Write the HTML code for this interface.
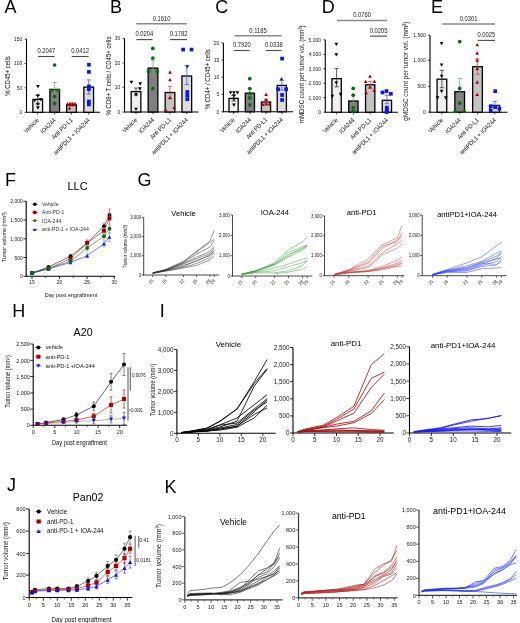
<!DOCTYPE html>
<html><head><meta charset="utf-8"><style>
html,body{margin:0;padding:0;background:#fff;}
body{width:520px;height:623px;overflow:hidden;}
svg{display:block;font-family:"Liberation Sans", sans-serif;filter:blur(0.3px);}
</style></head><body>
<svg width="520" height="623" viewBox="0 0 520 623">
<rect width="520" height="623" fill="#fff"/>
<text x="4.6" y="12.6" font-size="18" text-anchor="start" fill="#000">A</text>
<text x="109.9" y="12.5" font-size="18" text-anchor="start" fill="#000">B</text>
<text x="215.3" y="12.8" font-size="18" text-anchor="start" fill="#000">C</text>
<text x="321.8" y="12.5" font-size="18" text-anchor="start" fill="#000">D</text>
<text x="431" y="12.7" font-size="18" text-anchor="start" fill="#000">E</text>
<text x="5.1" y="186.1" font-size="18" text-anchor="start" fill="#000">F</text>
<text x="137.6" y="186" font-size="18" text-anchor="start" fill="#000">G</text>
<text x="12.2" y="316.5" font-size="18" text-anchor="start" fill="#000">H</text>
<text x="159.7" y="316.5" font-size="18" text-anchor="start" fill="#000">I</text>
<text x="6.9" y="490.7" font-size="18" text-anchor="start" fill="#000">J</text>
<text x="164.5" y="492.7" font-size="18" text-anchor="start" fill="#000">K</text>
<line x1="26.5" y1="39" x2="26.5" y2="112.7" stroke="#000" stroke-width="1.1"/>
<line x1="26" y1="112.3" x2="100" y2="112.3" stroke="#000" stroke-width="1.1"/>
<line x1="24.5" y1="39" x2="26.5" y2="39" stroke="#000" stroke-width="0.7"/>
<text x="22.3" y="40.8" font-size="5" text-anchor="end" fill="#222">150</text>
<line x1="24.5" y1="63.5" x2="26.5" y2="63.5" stroke="#000" stroke-width="0.7"/>
<text x="22.3" y="65.3" font-size="5" text-anchor="end" fill="#222">100</text>
<line x1="24.5" y1="87.8" x2="26.5" y2="87.8" stroke="#000" stroke-width="0.7"/>
<text x="22.3" y="89.6" font-size="5" text-anchor="end" fill="#222">50</text>
<line x1="24.5" y1="112.3" x2="26.5" y2="112.3" stroke="#000" stroke-width="0.7"/>
<text x="22.3" y="114.1" font-size="5" text-anchor="end" fill="#222">0</text>
<rect x="32.85" y="99.4" width="9.7" height="12.9" fill="#efefef" stroke="#000" stroke-width="1.3"/>
<line x1="37.7" y1="112.3" x2="37.7" y2="114.5" stroke="#000" stroke-width="0.7"/>
<text x="0" y="0" font-size="6.25" text-anchor="end" fill="#111" transform="translate(39.3 120.6) rotate(-45) scale(0.9 1)">Vehicle</text>
<rect x="49.85" y="89.5" width="9.7" height="22.8" fill="#7f7f7f" stroke="#000" stroke-width="1.3"/>
<line x1="54.7" y1="112.3" x2="54.7" y2="114.5" stroke="#000" stroke-width="0.7"/>
<text x="0" y="0" font-size="6.25" text-anchor="end" fill="#111" transform="translate(56.3 120.6) rotate(-45) scale(0.9 1)">IOA244</text>
<rect x="66.65" y="105.1" width="9.7" height="7.2" fill="#c4c4c4" stroke="#000" stroke-width="1.3"/>
<line x1="71.5" y1="112.3" x2="71.5" y2="114.5" stroke="#000" stroke-width="0.7"/>
<text x="0" y="0" font-size="6.25" text-anchor="end" fill="#111" transform="translate(73.1 120.6) rotate(-45) scale(0.9 1)">Anti PD-L1</text>
<rect x="83.85" y="87.1" width="9.7" height="25.2" fill="#dcdcdc" stroke="#000" stroke-width="1.3"/>
<line x1="88.7" y1="112.3" x2="88.7" y2="114.5" stroke="#000" stroke-width="0.7"/>
<text x="0" y="0" font-size="6.25" text-anchor="end" fill="#111" transform="translate(90.3 120.6) rotate(-45) scale(0.9 1)">antiPDL1 + IOA244</text>
<line x1="37.7" y1="95.5" x2="37.7" y2="104" stroke="#333" stroke-width="0.8"/>
<line x1="35.5" y1="95.5" x2="39.9" y2="95.5" stroke="#333" stroke-width="0.8"/>
<line x1="35.5" y1="104" x2="39.9" y2="104" stroke="#333" stroke-width="0.8"/>
<polygon points="37.9,88.27 36.05,84.93 39.75,84.93" fill="#000"/>
<polygon points="37.9,97.47 36.05,94.13 39.75,94.13" fill="#000"/>
<polygon points="34.8,102.27 32.95,98.93 36.65,98.93" fill="#000"/>
<polygon points="40.8,101.27 38.95,97.93 42.65,97.93" fill="#000"/>
<polygon points="37.9,106.07 36.05,102.73 39.75,102.73" fill="#000"/>
<polygon points="37.9,109.67 36.05,106.33 39.75,106.33" fill="#000"/>
<line x1="54.7" y1="82.5" x2="54.7" y2="96" stroke="#6aa86a" stroke-width="0.8"/>
<line x1="52.5" y1="82.5" x2="56.9" y2="82.5" stroke="#6aa86a" stroke-width="0.8"/>
<line x1="52.5" y1="96" x2="56.9" y2="96" stroke="#6aa86a" stroke-width="0.8"/>
<circle cx="54.6" cy="65" r="1.85" fill="#0b6b0b"/>
<circle cx="50.9" cy="90.4" r="1.85" fill="#0b6b0b"/>
<circle cx="58.5" cy="90.4" r="1.85" fill="#0b6b0b"/>
<circle cx="54.6" cy="96.5" r="1.85" fill="#0b6b0b"/>
<circle cx="54.6" cy="103.4" r="1.85" fill="#0b6b0b"/>
<line x1="71.5" y1="103" x2="71.5" y2="106.5" stroke="#d24a4a" stroke-width="0.8"/>
<line x1="69.3" y1="103" x2="73.7" y2="103" stroke="#d24a4a" stroke-width="0.8"/>
<line x1="69.3" y1="106.5" x2="73.7" y2="106.5" stroke="#d24a4a" stroke-width="0.8"/>
<polygon points="67.5,102.03 65.65,105.37 69.35,105.37" fill="#a80000"/>
<polygon points="70,101.73 68.15,105.07 71.85,105.07" fill="#a80000"/>
<polygon points="72.5,102.03 70.65,105.37 74.35,105.37" fill="#a80000"/>
<polygon points="75,101.73 73.15,105.07 76.85,105.07" fill="#a80000"/>
<polygon points="69.4,106.33 67.55,109.67 71.25,109.67" fill="#a80000"/>
<line x1="88.7" y1="79.9" x2="88.7" y2="94" stroke="#4a5cf0" stroke-width="0.8"/>
<line x1="86.5" y1="79.9" x2="90.9" y2="79.9" stroke="#4a5cf0" stroke-width="0.8"/>
<line x1="86.5" y1="94" x2="90.9" y2="94" stroke="#4a5cf0" stroke-width="0.8"/>
<rect x="87.05" y="62.85" width="3.7" height="3.7" fill="#0a14f0" stroke="none" stroke-width="0"/>
<rect x="87.05" y="70.05" width="3.7" height="3.7" fill="#0a14f0" stroke="none" stroke-width="0"/>
<rect x="87.05" y="84.55" width="3.7" height="3.7" fill="#0a14f0" stroke="none" stroke-width="0"/>
<rect x="87.05" y="87.35" width="3.7" height="3.7" fill="#0a14f0" stroke="none" stroke-width="0"/>
<rect x="87.05" y="99.65" width="3.7" height="3.7" fill="#0a14f0" stroke="none" stroke-width="0"/>
<rect x="87.05" y="102.55" width="3.7" height="3.7" fill="#0a14f0" stroke="none" stroke-width="0"/>
<line x1="38.1" y1="56.5" x2="54.6" y2="56.5" stroke="#4a4a4a" stroke-width="1.1"/>
<text x="0" y="0" font-size="6.6" text-anchor="middle" fill="#222" transform="translate(46.35 53.2) scale(0.88 1)">0.2047</text>
<line x1="71.7" y1="56.5" x2="88.6" y2="56.5" stroke="#4a4a4a" stroke-width="1.1"/>
<text x="0" y="0" font-size="6.6" text-anchor="middle" fill="#222" transform="translate(80.15 53.2) scale(0.88 1)">0.0412</text>
<text x="0" y="0" font-size="7" text-anchor="middle" fill="#111" transform="translate(9.5 76) rotate(-90) scale(0.86 1)">% CD45+ cells</text>
<line x1="124.5" y1="38.4" x2="124.5" y2="112.4" stroke="#000" stroke-width="1.1"/>
<line x1="124" y1="112" x2="198.5" y2="112" stroke="#000" stroke-width="1.1"/>
<line x1="122.5" y1="38.4" x2="124.5" y2="38.4" stroke="#000" stroke-width="0.7"/>
<text x="120.3" y="40.2" font-size="5" text-anchor="end" fill="#222">30</text>
<line x1="122.5" y1="63" x2="124.5" y2="63" stroke="#000" stroke-width="0.7"/>
<text x="120.3" y="64.8" font-size="5" text-anchor="end" fill="#222">20</text>
<line x1="122.5" y1="87.4" x2="124.5" y2="87.4" stroke="#000" stroke-width="0.7"/>
<text x="120.3" y="89.2" font-size="5" text-anchor="end" fill="#222">10</text>
<line x1="122.5" y1="112" x2="124.5" y2="112" stroke="#000" stroke-width="0.7"/>
<text x="120.3" y="113.8" font-size="5" text-anchor="end" fill="#222">0</text>
<rect x="131.15" y="91.6" width="9.7" height="20.4" fill="#efefef" stroke="#000" stroke-width="1.3"/>
<line x1="136" y1="112" x2="136" y2="114.2" stroke="#000" stroke-width="0.7"/>
<text x="0" y="0" font-size="6.25" text-anchor="end" fill="#111" transform="translate(137.6 120.3) rotate(-45) scale(0.9 1)">Vehicle</text>
<rect x="148.15" y="68.1" width="9.7" height="43.9" fill="#7f7f7f" stroke="#000" stroke-width="1.3"/>
<line x1="153" y1="112" x2="153" y2="114.2" stroke="#000" stroke-width="0.7"/>
<text x="0" y="0" font-size="6.25" text-anchor="end" fill="#111" transform="translate(154.6 120.3) rotate(-45) scale(0.9 1)">IOA244</text>
<rect x="165.15" y="92.5" width="9.7" height="19.5" fill="#c4c4c4" stroke="#000" stroke-width="1.3"/>
<line x1="170" y1="112" x2="170" y2="114.2" stroke="#000" stroke-width="0.7"/>
<text x="0" y="0" font-size="6.25" text-anchor="end" fill="#111" transform="translate(171.6 120.3) rotate(-45) scale(0.9 1)">Anti PD-L1</text>
<rect x="181.95" y="76" width="9.7" height="36" fill="#dcdcdc" stroke="#000" stroke-width="1.3"/>
<line x1="186.8" y1="112" x2="186.8" y2="114.2" stroke="#000" stroke-width="0.7"/>
<text x="0" y="0" font-size="6.25" text-anchor="end" fill="#111" transform="translate(188.4 120.3) rotate(-45) scale(0.9 1)">antiPDL1 + IOA244</text>
<line x1="136" y1="88" x2="136" y2="95" stroke="#333" stroke-width="0.8"/>
<line x1="133.8" y1="88" x2="138.2" y2="88" stroke="#333" stroke-width="0.8"/>
<line x1="133.8" y1="95" x2="138.2" y2="95" stroke="#333" stroke-width="0.8"/>
<polygon points="131.4,84.07 129.55,80.73 133.25,80.73" fill="#000"/>
<polygon points="140.2,85.67 138.35,82.33 142.05,82.33" fill="#000"/>
<polygon points="139.9,90.67 138.05,87.33 141.75,87.33" fill="#000"/>
<polygon points="136,96.67 134.15,93.33 137.85,93.33" fill="#000"/>
<polygon points="136,110.97 134.15,107.63 137.85,107.63" fill="#000"/>
<line x1="153" y1="60.2" x2="153" y2="76" stroke="#6aa86a" stroke-width="0.8"/>
<line x1="150.8" y1="60.2" x2="155.2" y2="60.2" stroke="#6aa86a" stroke-width="0.8"/>
<line x1="150.8" y1="76" x2="155.2" y2="76" stroke="#6aa86a" stroke-width="0.8"/>
<circle cx="152.8" cy="48.4" r="1.85" fill="#0b6b0b"/>
<circle cx="152.8" cy="58" r="1.85" fill="#0b6b0b"/>
<circle cx="148.6" cy="71.4" r="1.85" fill="#0b6b0b"/>
<circle cx="157.4" cy="71.4" r="1.85" fill="#0b6b0b"/>
<circle cx="152.8" cy="88.6" r="1.85" fill="#0b6b0b"/>
<line x1="170" y1="86.3" x2="170" y2="98.5" stroke="#d24a4a" stroke-width="0.8"/>
<line x1="167.8" y1="86.3" x2="172.2" y2="86.3" stroke="#d24a4a" stroke-width="0.8"/>
<line x1="167.8" y1="98.5" x2="172.2" y2="98.5" stroke="#d24a4a" stroke-width="0.8"/>
<polygon points="170,70.33 168.15,73.67 171.85,73.67" fill="#a80000"/>
<polygon points="170,77.83 168.15,81.17 171.85,81.17" fill="#a80000"/>
<polygon points="170,95.83 168.15,99.17 171.85,99.17" fill="#a80000"/>
<polygon points="165.8,108.33 163.95,111.67 167.65,111.67" fill="#a80000"/>
<polygon points="174.2,105.63 172.35,108.97 176.05,108.97" fill="#a80000"/>
<line x1="186.8" y1="65.6" x2="186.8" y2="84.6" stroke="#4a5cf0" stroke-width="0.8"/>
<line x1="184.6" y1="65.6" x2="189" y2="65.6" stroke="#4a5cf0" stroke-width="0.8"/>
<line x1="184.6" y1="84.6" x2="189" y2="84.6" stroke="#4a5cf0" stroke-width="0.8"/>
<rect x="181.25" y="47.75" width="3.7" height="3.7" fill="#0a14f0" stroke="none" stroke-width="0"/>
<rect x="189.65" y="47.75" width="3.7" height="3.7" fill="#0a14f0" stroke="none" stroke-width="0"/>
<polygon points="187.3,68.57 185.45,65.23 189.15,65.23" fill="#0a14f0"/>
<rect x="185.45" y="90.15" width="3.7" height="3.7" fill="#0a14f0" stroke="none" stroke-width="0"/>
<rect x="185.45" y="93.65" width="3.7" height="3.7" fill="#0a14f0" stroke="none" stroke-width="0"/>
<rect x="185.45" y="97.35" width="3.7" height="3.7" fill="#0a14f0" stroke="none" stroke-width="0"/>
<line x1="136.3" y1="23.8" x2="187" y2="23.8" stroke="#8a8a8a" stroke-width="1.6"/>
<text x="0" y="0" font-size="6.6" text-anchor="middle" fill="#222" transform="translate(161.65 20.5) scale(0.88 1)">0.1610</text>
<line x1="136.3" y1="39.6" x2="152.5" y2="39.6" stroke="#4a4a4a" stroke-width="1.1"/>
<text x="0" y="0" font-size="6.6" text-anchor="middle" fill="#222" transform="translate(144.4 36.3) scale(0.88 1)">0.0204</text>
<line x1="170.2" y1="39.6" x2="187" y2="39.6" stroke="#4a4a4a" stroke-width="1.1"/>
<text x="0" y="0" font-size="6.6" text-anchor="middle" fill="#222" transform="translate(178.6 36.3) scale(0.88 1)">0.1782</text>
<text x="0" y="0" font-size="7" text-anchor="middle" fill="#111" transform="translate(110.9 76) rotate(-90) scale(0.86 1)">% CD8+ T cells / CD45+ cells</text>
<line x1="223.4" y1="42.9" x2="223.4" y2="112.2" stroke="#000" stroke-width="1.1"/>
<line x1="222.9" y1="111.8" x2="293" y2="111.8" stroke="#000" stroke-width="1.1"/>
<line x1="221.4" y1="42.9" x2="223.4" y2="42.9" stroke="#000" stroke-width="0.7"/>
<text x="219.2" y="44.7" font-size="5" text-anchor="end" fill="#222">20</text>
<line x1="221.4" y1="60" x2="223.4" y2="60" stroke="#000" stroke-width="0.7"/>
<text x="219.2" y="61.8" font-size="5" text-anchor="end" fill="#222">15</text>
<line x1="221.4" y1="77.2" x2="223.4" y2="77.2" stroke="#000" stroke-width="0.7"/>
<text x="219.2" y="79" font-size="5" text-anchor="end" fill="#222">10</text>
<line x1="221.4" y1="94.3" x2="223.4" y2="94.3" stroke="#000" stroke-width="0.7"/>
<text x="219.2" y="96.1" font-size="5" text-anchor="end" fill="#222">5</text>
<line x1="221.4" y1="111.8" x2="223.4" y2="111.8" stroke="#000" stroke-width="0.7"/>
<text x="219.2" y="113.6" font-size="5" text-anchor="end" fill="#222">0</text>
<rect x="229" y="98.4" width="9.2" height="13.4" fill="#efefef" stroke="#000" stroke-width="1.3"/>
<line x1="233.6" y1="111.8" x2="233.6" y2="114" stroke="#000" stroke-width="0.7"/>
<text x="0" y="0" font-size="6.25" text-anchor="end" fill="#111" transform="translate(235.2 120.1) rotate(-45) scale(0.9 1)">Vehicle</text>
<rect x="245.3" y="93.2" width="9.2" height="18.6" fill="#7f7f7f" stroke="#000" stroke-width="1.3"/>
<line x1="249.9" y1="111.8" x2="249.9" y2="114" stroke="#000" stroke-width="0.7"/>
<text x="0" y="0" font-size="6.25" text-anchor="end" fill="#111" transform="translate(251.5 120.1) rotate(-45) scale(0.9 1)">IOA244</text>
<rect x="261.4" y="102" width="9.2" height="9.8" fill="#c4c4c4" stroke="#000" stroke-width="1.3"/>
<line x1="266" y1="111.8" x2="266" y2="114" stroke="#000" stroke-width="0.7"/>
<text x="0" y="0" font-size="6.25" text-anchor="end" fill="#111" transform="translate(267.6 120.1) rotate(-45) scale(0.9 1)">Anti PD-L1</text>
<rect x="277.2" y="85.4" width="9.2" height="26.4" fill="#dcdcdc" stroke="#000" stroke-width="1.3"/>
<line x1="281.8" y1="111.8" x2="281.8" y2="114" stroke="#000" stroke-width="0.7"/>
<text x="0" y="0" font-size="6.25" text-anchor="end" fill="#111" transform="translate(283.4 120.1) rotate(-45) scale(0.9 1)">antiPDL1 + IOA244</text>
<line x1="233.6" y1="95.5" x2="233.6" y2="101" stroke="#333" stroke-width="0.8"/>
<line x1="231.4" y1="95.5" x2="235.8" y2="95.5" stroke="#333" stroke-width="0.8"/>
<line x1="231.4" y1="101" x2="235.8" y2="101" stroke="#333" stroke-width="0.8"/>
<polygon points="230.6,94.47 228.75,91.13 232.45,91.13" fill="#000"/>
<polygon points="233.9,94.47 232.05,91.13 235.75,91.13" fill="#000"/>
<polygon points="237.4,94.47 235.55,91.13 239.25,91.13" fill="#000"/>
<polygon points="233.9,97.67 232.05,94.33 235.75,94.33" fill="#000"/>
<polygon points="233.9,100.97 232.05,97.63 235.75,97.63" fill="#000"/>
<polygon points="233.9,106.77 232.05,103.43 235.75,103.43" fill="#000"/>
<line x1="249.9" y1="88.5" x2="249.9" y2="98.5" stroke="#6aa86a" stroke-width="0.8"/>
<line x1="247.7" y1="88.5" x2="252.1" y2="88.5" stroke="#6aa86a" stroke-width="0.8"/>
<line x1="247.7" y1="98.5" x2="252.1" y2="98.5" stroke="#6aa86a" stroke-width="0.8"/>
<circle cx="249.8" cy="78.7" r="1.85" fill="#0b6b0b"/>
<circle cx="249.8" cy="88.5" r="1.85" fill="#0b6b0b"/>
<circle cx="249.8" cy="93.5" r="1.85" fill="#0b6b0b"/>
<circle cx="249.8" cy="97.9" r="1.85" fill="#0b6b0b"/>
<circle cx="249.8" cy="104.8" r="1.85" fill="#0b6b0b"/>
<line x1="266" y1="99.5" x2="266" y2="104" stroke="#d24a4a" stroke-width="0.8"/>
<line x1="263.8" y1="99.5" x2="268.2" y2="99.5" stroke="#d24a4a" stroke-width="0.8"/>
<line x1="263.8" y1="104" x2="268.2" y2="104" stroke="#d24a4a" stroke-width="0.8"/>
<polygon points="266.1,92.63 264.25,95.97 267.95,95.97" fill="#a80000"/>
<polygon points="266.1,97.63 264.25,100.97 267.95,100.97" fill="#a80000"/>
<polygon points="262.8,102.73 260.95,106.07 264.65,106.07" fill="#a80000"/>
<polygon points="266.1,102.13 264.25,105.47 267.95,105.47" fill="#a80000"/>
<polygon points="269.4,102.13 267.55,105.47 271.25,105.47" fill="#a80000"/>
<line x1="281.8" y1="80.5" x2="281.8" y2="90" stroke="#4a5cf0" stroke-width="0.8"/>
<line x1="279.6" y1="80.5" x2="284" y2="80.5" stroke="#4a5cf0" stroke-width="0.8"/>
<line x1="279.6" y1="90" x2="284" y2="90" stroke="#4a5cf0" stroke-width="0.8"/>
<rect x="280.25" y="56.75" width="3.7" height="3.7" fill="#0a14f0" stroke="none" stroke-width="0"/>
<polygon points="281.5,77.03 279.65,80.37 283.35,80.37" fill="#0a14f0"/>
<rect x="276.25" y="87.35" width="3.7" height="3.7" fill="#0a14f0" stroke="none" stroke-width="0"/>
<rect x="284.25" y="87.35" width="3.7" height="3.7" fill="#0a14f0" stroke="none" stroke-width="0"/>
<rect x="280.25" y="93.15" width="3.7" height="3.7" fill="#0a14f0" stroke="none" stroke-width="0"/>
<rect x="280.25" y="98.15" width="3.7" height="3.7" fill="#0a14f0" stroke="none" stroke-width="0"/>
<line x1="234.4" y1="35.8" x2="281.6" y2="35.8" stroke="#8a8a8a" stroke-width="1.6"/>
<text x="0" y="0" font-size="6.6" text-anchor="middle" fill="#222" transform="translate(258 32.5) scale(0.88 1)">0.1185</text>
<line x1="233.9" y1="50.5" x2="249.8" y2="50.5" stroke="#4a4a4a" stroke-width="1.1"/>
<text x="0" y="0" font-size="6.6" text-anchor="middle" fill="#222" transform="translate(241.85 47.2) scale(0.88 1)">0.7920</text>
<line x1="266.1" y1="50.5" x2="281.6" y2="50.5" stroke="#4a4a4a" stroke-width="1.1"/>
<text x="0" y="0" font-size="6.6" text-anchor="middle" fill="#222" transform="translate(273.85 47.2) scale(0.88 1)">0.0338</text>
<text x="0" y="0" font-size="7" text-anchor="middle" fill="#111" transform="translate(210.1 79.2) rotate(-90) scale(0.86 1)">% CD4+ / CD45+ cells</text>
<line x1="325.3" y1="39.8" x2="325.3" y2="112.6" stroke="#000" stroke-width="1.1"/>
<line x1="324.8" y1="112.2" x2="398" y2="112.2" stroke="#000" stroke-width="1.1"/>
<line x1="323.3" y1="39.8" x2="325.3" y2="39.8" stroke="#000" stroke-width="0.7"/>
<text x="321.1" y="41.6" font-size="5" text-anchor="end" fill="#222">5,000</text>
<line x1="323.3" y1="54.4" x2="325.3" y2="54.4" stroke="#000" stroke-width="0.7"/>
<text x="321.1" y="56.2" font-size="5" text-anchor="end" fill="#222">4,000</text>
<line x1="323.3" y1="68.8" x2="325.3" y2="68.8" stroke="#000" stroke-width="0.7"/>
<text x="321.1" y="70.6" font-size="5" text-anchor="end" fill="#222">3,000</text>
<line x1="323.3" y1="83.3" x2="325.3" y2="83.3" stroke="#000" stroke-width="0.7"/>
<text x="321.1" y="85.1" font-size="5" text-anchor="end" fill="#222">2,000</text>
<line x1="323.3" y1="97.7" x2="325.3" y2="97.7" stroke="#000" stroke-width="0.7"/>
<text x="321.1" y="99.5" font-size="5" text-anchor="end" fill="#222">1,000</text>
<line x1="323.3" y1="112.1" x2="325.3" y2="112.1" stroke="#000" stroke-width="0.7"/>
<text x="321.1" y="113.9" font-size="5" text-anchor="end" fill="#222">0</text>
<rect x="331.95" y="78.7" width="9.3" height="33.5" fill="#efefef" stroke="#000" stroke-width="1.3"/>
<line x1="336.6" y1="112.2" x2="336.6" y2="114.4" stroke="#000" stroke-width="0.7"/>
<text x="0" y="0" font-size="6.25" text-anchor="end" fill="#111" transform="translate(338.2 120.5) rotate(-45) scale(0.9 1)">Vehicle</text>
<rect x="348.75" y="101" width="9.3" height="11.2" fill="#7f7f7f" stroke="#000" stroke-width="1.3"/>
<line x1="353.4" y1="112.2" x2="353.4" y2="114.4" stroke="#000" stroke-width="0.7"/>
<text x="0" y="0" font-size="6.25" text-anchor="end" fill="#111" transform="translate(355 120.5) rotate(-45) scale(0.9 1)">IOA244</text>
<rect x="365.55" y="84.8" width="9.3" height="27.4" fill="#c4c4c4" stroke="#000" stroke-width="1.3"/>
<line x1="370.2" y1="112.2" x2="370.2" y2="114.4" stroke="#000" stroke-width="0.7"/>
<text x="0" y="0" font-size="6.25" text-anchor="end" fill="#111" transform="translate(371.8 120.5) rotate(-45) scale(0.9 1)">Anti PD-L1</text>
<rect x="382.25" y="100.3" width="9.3" height="11.9" fill="#dcdcdc" stroke="#000" stroke-width="1.3"/>
<line x1="386.9" y1="112.2" x2="386.9" y2="114.4" stroke="#000" stroke-width="0.7"/>
<text x="0" y="0" font-size="6.25" text-anchor="end" fill="#111" transform="translate(388.5 120.5) rotate(-45) scale(0.9 1)">antiPDL1 + IOA244</text>
<line x1="336.6" y1="68.6" x2="336.6" y2="86.8" stroke="#333" stroke-width="0.8"/>
<line x1="334.4" y1="68.6" x2="338.8" y2="68.6" stroke="#333" stroke-width="0.8"/>
<line x1="334.4" y1="86.8" x2="338.8" y2="86.8" stroke="#333" stroke-width="0.8"/>
<polygon points="336.3,46.06 334.45,42.73 338.15,42.73" fill="#000"/>
<polygon points="336.3,56.56 334.45,53.23 338.15,53.23" fill="#000"/>
<polygon points="336.3,84.87 334.45,81.53 338.15,81.53" fill="#000"/>
<polygon points="332.3,98.17 330.45,94.83 334.15,94.83" fill="#000"/>
<polygon points="340.6,96.17 338.75,92.83 342.45,92.83" fill="#000"/>
<line x1="353.4" y1="95.2" x2="353.4" y2="107" stroke="#6aa86a" stroke-width="0.8"/>
<line x1="351.2" y1="95.2" x2="355.6" y2="95.2" stroke="#6aa86a" stroke-width="0.8"/>
<line x1="351.2" y1="107" x2="355.6" y2="107" stroke="#6aa86a" stroke-width="0.8"/>
<circle cx="353.2" cy="88.4" r="1.85" fill="#0b6b0b"/>
<circle cx="353.2" cy="95.2" r="1.85" fill="#0b6b0b"/>
<circle cx="353.2" cy="107.7" r="1.85" fill="#0b6b0b"/>
<circle cx="353.2" cy="111.3" r="1.85" fill="#0b6b0b"/>
<line x1="370.2" y1="81.4" x2="370.2" y2="88.2" stroke="#d24a4a" stroke-width="0.8"/>
<line x1="368" y1="81.4" x2="372.4" y2="81.4" stroke="#d24a4a" stroke-width="0.8"/>
<line x1="368" y1="88.2" x2="372.4" y2="88.2" stroke="#d24a4a" stroke-width="0.8"/>
<polygon points="370,74.33 368.15,77.67 371.85,77.67" fill="#a80000"/>
<polygon points="365.7,79.73 363.85,83.07 367.55,83.07" fill="#a80000"/>
<polygon points="374.4,79.73 372.55,83.07 376.25,83.07" fill="#a80000"/>
<polygon points="370,85.13 368.15,88.47 371.85,88.47" fill="#a80000"/>
<polygon points="366.1,90.93 364.25,94.27 367.95,94.27" fill="#a80000"/>
<polygon points="374.2,88.53 372.35,91.87 376.05,91.87" fill="#a80000"/>
<line x1="386.9" y1="95.2" x2="386.9" y2="103.6" stroke="#4a5cf0" stroke-width="0.8"/>
<line x1="384.7" y1="95.2" x2="389.1" y2="95.2" stroke="#4a5cf0" stroke-width="0.8"/>
<line x1="384.7" y1="103.6" x2="389.1" y2="103.6" stroke="#4a5cf0" stroke-width="0.8"/>
<rect x="380.65" y="90.65" width="3.7" height="3.7" fill="#0a14f0" stroke="none" stroke-width="0"/>
<rect x="384.65" y="89.25" width="3.7" height="3.7" fill="#0a14f0" stroke="none" stroke-width="0"/>
<rect x="389.05" y="91.95" width="3.7" height="3.7" fill="#0a14f0" stroke="none" stroke-width="0"/>
<rect x="384.95" y="105.85" width="3.7" height="3.7" fill="#0a14f0" stroke="none" stroke-width="0"/>
<rect x="384.95" y="108.15" width="3.7" height="3.7" fill="#0a14f0" stroke="none" stroke-width="0"/>
<rect x="384.95" y="110.15" width="3.7" height="3.7" fill="#0a14f0" stroke="none" stroke-width="0"/>
<line x1="337" y1="20.5" x2="387" y2="20.5" stroke="#8a8a8a" stroke-width="1.6"/>
<text x="0" y="0" font-size="6.6" text-anchor="middle" fill="#222" transform="translate(362 17.2) scale(0.88 1)">0.0760</text>
<line x1="370" y1="36.1" x2="387" y2="36.1" stroke="#4a4a4a" stroke-width="1.1"/>
<text x="0" y="0" font-size="6.6" text-anchor="middle" fill="#222" transform="translate(378.5 32.8) scale(0.88 1)">0.0205</text>
<text x="0" y="0" font-size="7.2" text-anchor="middle" fill="#111" transform="translate(303.6 74.3) rotate(-90) scale(0.86 1)">mMDSC count per tumor vol. (mm³)</text>
<line x1="430" y1="35.2" x2="430" y2="112.6" stroke="#000" stroke-width="1.1"/>
<line x1="429.5" y1="112.2" x2="507.5" y2="112.2" stroke="#000" stroke-width="1.1"/>
<line x1="428" y1="35.2" x2="430" y2="35.2" stroke="#000" stroke-width="0.7"/>
<text x="425.8" y="37" font-size="5" text-anchor="end" fill="#222">1,500</text>
<line x1="428" y1="60.6" x2="430" y2="60.6" stroke="#000" stroke-width="0.7"/>
<text x="425.8" y="62.4" font-size="5" text-anchor="end" fill="#222">1,000</text>
<line x1="428" y1="86.5" x2="430" y2="86.5" stroke="#000" stroke-width="0.7"/>
<text x="425.8" y="88.3" font-size="5" text-anchor="end" fill="#222">500</text>
<line x1="428" y1="112.1" x2="430" y2="112.1" stroke="#000" stroke-width="0.7"/>
<text x="425.8" y="113.9" font-size="5" text-anchor="end" fill="#222">0</text>
<rect x="437.05" y="79.2" width="9.7" height="33" fill="#efefef" stroke="#000" stroke-width="1.3"/>
<line x1="441.9" y1="112.2" x2="441.9" y2="114.4" stroke="#000" stroke-width="0.7"/>
<text x="0" y="0" font-size="6.25" text-anchor="end" fill="#111" transform="translate(443.5 120.5) rotate(-45) scale(0.9 1)">Vehicle</text>
<rect x="454.85" y="91.7" width="9.7" height="20.5" fill="#7f7f7f" stroke="#000" stroke-width="1.3"/>
<line x1="459.7" y1="112.2" x2="459.7" y2="114.4" stroke="#000" stroke-width="0.7"/>
<text x="0" y="0" font-size="6.25" text-anchor="end" fill="#111" transform="translate(461.3 120.5) rotate(-45) scale(0.9 1)">IOA244</text>
<rect x="472.65" y="66.7" width="9.7" height="45.5" fill="#c4c4c4" stroke="#000" stroke-width="1.3"/>
<line x1="477.5" y1="112.2" x2="477.5" y2="114.4" stroke="#000" stroke-width="0.7"/>
<text x="0" y="0" font-size="6.25" text-anchor="end" fill="#111" transform="translate(479.1 120.5) rotate(-45) scale(0.9 1)">Anti PD-L1</text>
<rect x="489.95" y="105.4" width="9.7" height="6.8" fill="#dcdcdc" stroke="#000" stroke-width="1.3"/>
<line x1="494.8" y1="112.2" x2="494.8" y2="114.4" stroke="#000" stroke-width="0.7"/>
<text x="0" y="0" font-size="6.25" text-anchor="end" fill="#111" transform="translate(496.4 120.5) rotate(-45) scale(0.9 1)">antiPDL1 + IOA244</text>
<line x1="441.9" y1="70.4" x2="441.9" y2="87.7" stroke="#333" stroke-width="0.8"/>
<line x1="439.7" y1="70.4" x2="444.1" y2="70.4" stroke="#333" stroke-width="0.8"/>
<line x1="439.7" y1="87.7" x2="444.1" y2="87.7" stroke="#333" stroke-width="0.8"/>
<polygon points="441.6,45.37 439.75,42.04 443.45,42.04" fill="#000"/>
<polygon points="441.6,66.87 439.75,63.54 443.45,63.54" fill="#000"/>
<polygon points="441.6,78.07 439.75,74.73 443.45,74.73" fill="#000"/>
<polygon points="441.6,93.17 439.75,89.83 443.45,89.83" fill="#000"/>
<polygon points="437.5,99.67 435.65,96.33 439.35,96.33" fill="#000"/>
<polygon points="445.8,99.67 443.95,96.33 447.65,96.33" fill="#000"/>
<line x1="459.7" y1="78.3" x2="459.7" y2="103" stroke="#6aa86a" stroke-width="0.8"/>
<line x1="457.5" y1="78.3" x2="461.9" y2="78.3" stroke="#6aa86a" stroke-width="0.8"/>
<line x1="457.5" y1="103" x2="461.9" y2="103" stroke="#6aa86a" stroke-width="0.8"/>
<circle cx="459.7" cy="41.6" r="1.85" fill="#0b6b0b"/>
<circle cx="459.7" cy="88.4" r="1.85" fill="#0b6b0b"/>
<circle cx="459.7" cy="103.1" r="1.85" fill="#0b6b0b"/>
<circle cx="455.2" cy="111.5" r="1.85" fill="#0b6b0b"/>
<circle cx="464.3" cy="111.5" r="1.85" fill="#0b6b0b"/>
<line x1="477.5" y1="58.9" x2="477.5" y2="74.3" stroke="#d24a4a" stroke-width="0.8"/>
<line x1="475.3" y1="58.9" x2="479.7" y2="58.9" stroke="#d24a4a" stroke-width="0.8"/>
<line x1="475.3" y1="74.3" x2="479.7" y2="74.3" stroke="#d24a4a" stroke-width="0.8"/>
<polygon points="477.2,42.94 475.35,46.27 479.05,46.27" fill="#a80000"/>
<polygon points="477.2,51.34 475.35,54.66 479.05,54.66" fill="#a80000"/>
<polygon points="477.2,58.34 475.35,61.66 479.05,61.66" fill="#a80000"/>
<polygon points="477.2,66.73 475.35,70.07 479.05,70.07" fill="#a80000"/>
<polygon points="477.2,80.33 475.35,83.67 479.05,83.67" fill="#a80000"/>
<polygon points="477.2,92.63 475.35,95.97 479.05,95.97" fill="#a80000"/>
<line x1="494.8" y1="101.3" x2="494.8" y2="108" stroke="#4a5cf0" stroke-width="0.8"/>
<line x1="492.6" y1="101.3" x2="497" y2="101.3" stroke="#4a5cf0" stroke-width="0.8"/>
<line x1="492.6" y1="108" x2="497" y2="108" stroke="#4a5cf0" stroke-width="0.8"/>
<rect x="493.35" y="89.35" width="3.7" height="3.7" fill="#0a14f0" stroke="none" stroke-width="0"/>
<rect x="488.85" y="104.45" width="3.7" height="3.7" fill="#0a14f0" stroke="none" stroke-width="0"/>
<rect x="497.55" y="106.85" width="3.7" height="3.7" fill="#0a14f0" stroke="none" stroke-width="0"/>
<rect x="488.85" y="108.95" width="3.7" height="3.7" fill="#0a14f0" stroke="none" stroke-width="0"/>
<rect x="493.35" y="105.15" width="3.7" height="3.7" fill="#0a14f0" stroke="none" stroke-width="0"/>
<line x1="442" y1="24" x2="495" y2="24" stroke="#8a8a8a" stroke-width="1.6"/>
<text x="0" y="0" font-size="6.6" text-anchor="middle" fill="#222" transform="translate(468.5 20.7) scale(0.88 1)">0.0301</text>
<line x1="477.7" y1="40.4" x2="495" y2="40.4" stroke="#4a4a4a" stroke-width="1.1"/>
<text x="0" y="0" font-size="6.6" text-anchor="middle" fill="#222" transform="translate(486.35 37.1) scale(0.88 1)">0.0025</text>
<text x="0" y="0" font-size="7.4" text-anchor="middle" fill="#111" transform="translate(407.9 71.2) rotate(-90) scale(0.86 1)">gMDSC count per tumor vol. (mm³)</text>
<line x1="26.2" y1="201.3" x2="26.2" y2="276.7" stroke="#000" stroke-width="1.1"/>
<line x1="25.8" y1="276.3" x2="115.2" y2="276.3" stroke="#000" stroke-width="1.1"/>
<line x1="23.4" y1="201.3" x2="26.2" y2="201.3" stroke="#000" stroke-width="0.8"/>
<text x="0" y="0" font-size="5.8" text-anchor="end" fill="#222" transform="translate(22.8 203.39) scale(0.86 1)">2,000</text>
<line x1="23.4" y1="220" x2="26.2" y2="220" stroke="#000" stroke-width="0.8"/>
<text x="0" y="0" font-size="5.8" text-anchor="end" fill="#222" transform="translate(22.8 222.09) scale(0.86 1)">1,500</text>
<line x1="23.4" y1="238.8" x2="26.2" y2="238.8" stroke="#000" stroke-width="0.8"/>
<text x="0" y="0" font-size="5.8" text-anchor="end" fill="#222" transform="translate(22.8 240.89) scale(0.86 1)">1,000</text>
<line x1="23.4" y1="257.5" x2="26.2" y2="257.5" stroke="#000" stroke-width="0.8"/>
<text x="0" y="0" font-size="5.8" text-anchor="end" fill="#222" transform="translate(22.8 259.59) scale(0.86 1)">500</text>
<line x1="23.4" y1="276.3" x2="26.2" y2="276.3" stroke="#000" stroke-width="0.8"/>
<text x="0" y="0" font-size="5.8" text-anchor="end" fill="#222" transform="translate(22.8 278.39) scale(0.86 1)">0</text>
<line x1="32" y1="276.3" x2="32" y2="279.1" stroke="#000" stroke-width="0.8"/>
<text x="0" y="0" font-size="5.8" text-anchor="middle" fill="#222" transform="translate(32 283.9) scale(0.86 1)">15</text>
<line x1="59.5" y1="276.3" x2="59.5" y2="279.1" stroke="#000" stroke-width="0.8"/>
<text x="0" y="0" font-size="5.8" text-anchor="middle" fill="#222" transform="translate(59.5 283.9) scale(0.86 1)">20</text>
<line x1="87" y1="276.3" x2="87" y2="279.1" stroke="#000" stroke-width="0.8"/>
<text x="0" y="0" font-size="5.8" text-anchor="middle" fill="#222" transform="translate(87 283.9) scale(0.86 1)">25</text>
<line x1="114.3" y1="276.3" x2="114.3" y2="279.1" stroke="#000" stroke-width="0.8"/>
<text x="0" y="0" font-size="5.8" text-anchor="middle" fill="#222" transform="translate(114.3 283.9) scale(0.86 1)">30</text>
<line x1="45.75" y1="276.3" x2="45.75" y2="277.98" stroke="#000" stroke-width="0.6"/>
<line x1="73.25" y1="276.3" x2="73.25" y2="277.98" stroke="#000" stroke-width="0.6"/>
<line x1="100.75" y1="276.3" x2="100.75" y2="277.98" stroke="#000" stroke-width="0.6"/>
<text x="0" y="0" font-size="5.8" text-anchor="middle" fill="#111" transform="translate(5.9 237.3) rotate(-90) scale(0.93 1)">Tumor volume (mm³)</text>
<text x="77.5" y="190" font-size="11" text-anchor="middle" fill="#000">LLC</text>
<text x="0" y="0" font-size="6.1" text-anchor="middle" fill="#111" transform="translate(71 297.4) scale(0.9 1)">Day post engraftment</text>
<polyline points="32,273 48.5,267 70.5,256.25 87.2,243 104,226.25 109.5,215" fill="none" stroke="#000" stroke-width="0.55" stroke-linejoin="round"/>
<polyline points="32,273 48.5,268.5 70.5,258.75 87.2,243 104,230.75 109.5,218.25" fill="none" stroke="#a80000" stroke-width="0.55" stroke-linejoin="round"/>
<polyline points="32,273 48.5,269 70.5,262.5 87.2,255.75 104,243.75 109.5,237" fill="none" stroke="#0a14f0" stroke-width="0.55" stroke-linejoin="round"/>
<polyline points="32,273 48.5,268.5 70.5,261.25 87.2,248 104,236.25 109.5,228.75" fill="none" stroke="#0b6b0b" stroke-width="0.55" stroke-linejoin="round"/>
<line x1="70.5" y1="254.75" x2="70.5" y2="257.75" stroke="#777" stroke-width="0.6"/>
<line x1="69" y1="254.75" x2="72" y2="254.75" stroke="#777" stroke-width="0.6"/>
<line x1="69" y1="257.75" x2="72" y2="257.75" stroke="#777" stroke-width="0.6"/>
<line x1="87.2" y1="240" x2="87.2" y2="246" stroke="#777" stroke-width="0.6"/>
<line x1="85.7" y1="240" x2="88.7" y2="240" stroke="#777" stroke-width="0.6"/>
<line x1="85.7" y1="246" x2="88.7" y2="246" stroke="#777" stroke-width="0.6"/>
<line x1="104" y1="223.25" x2="104" y2="229.25" stroke="#777" stroke-width="0.6"/>
<line x1="102.5" y1="223.25" x2="105.5" y2="223.25" stroke="#777" stroke-width="0.6"/>
<line x1="102.5" y1="229.25" x2="105.5" y2="229.25" stroke="#777" stroke-width="0.6"/>
<line x1="109.5" y1="209" x2="109.5" y2="221" stroke="#777" stroke-width="0.6"/>
<line x1="108" y1="209" x2="111" y2="209" stroke="#777" stroke-width="0.6"/>
<line x1="108" y1="221" x2="111" y2="221" stroke="#777" stroke-width="0.6"/>
<circle cx="32" cy="273" r="1.95" fill="#000"/>
<circle cx="48.5" cy="267" r="1.95" fill="#000"/>
<circle cx="70.5" cy="256.25" r="1.95" fill="#000"/>
<circle cx="87.2" cy="243" r="1.95" fill="#000"/>
<circle cx="104" cy="226.25" r="1.95" fill="#000"/>
<circle cx="109.5" cy="215" r="1.95" fill="#000"/>
<line x1="70.5" y1="257.25" x2="70.5" y2="260.25" stroke="#d77" stroke-width="0.6"/>
<line x1="69" y1="257.25" x2="72" y2="257.25" stroke="#d77" stroke-width="0.6"/>
<line x1="69" y1="260.25" x2="72" y2="260.25" stroke="#d77" stroke-width="0.6"/>
<line x1="87.2" y1="240" x2="87.2" y2="246" stroke="#d77" stroke-width="0.6"/>
<line x1="85.7" y1="240" x2="88.7" y2="240" stroke="#d77" stroke-width="0.6"/>
<line x1="85.7" y1="246" x2="88.7" y2="246" stroke="#d77" stroke-width="0.6"/>
<line x1="104" y1="227.75" x2="104" y2="233.75" stroke="#d77" stroke-width="0.6"/>
<line x1="102.5" y1="227.75" x2="105.5" y2="227.75" stroke="#d77" stroke-width="0.6"/>
<line x1="102.5" y1="233.75" x2="105.5" y2="233.75" stroke="#d77" stroke-width="0.6"/>
<line x1="109.5" y1="211.25" x2="109.5" y2="225.25" stroke="#d77" stroke-width="0.6"/>
<line x1="108" y1="211.25" x2="111" y2="211.25" stroke="#d77" stroke-width="0.6"/>
<line x1="108" y1="225.25" x2="111" y2="225.25" stroke="#d77" stroke-width="0.6"/>
<rect x="30.05" y="271.05" width="3.9" height="3.9" fill="#a80000" stroke="none" stroke-width="0"/>
<rect x="46.55" y="266.55" width="3.9" height="3.9" fill="#a80000" stroke="none" stroke-width="0"/>
<rect x="68.55" y="256.8" width="3.9" height="3.9" fill="#a80000" stroke="none" stroke-width="0"/>
<rect x="85.25" y="241.05" width="3.9" height="3.9" fill="#a80000" stroke="none" stroke-width="0"/>
<rect x="102.05" y="228.8" width="3.9" height="3.9" fill="#a80000" stroke="none" stroke-width="0"/>
<rect x="107.55" y="216.3" width="3.9" height="3.9" fill="#a80000" stroke="none" stroke-width="0"/>
<line x1="70.5" y1="261.5" x2="70.5" y2="263.5" stroke="#88f" stroke-width="0.6"/>
<line x1="69" y1="261.5" x2="72" y2="261.5" stroke="#88f" stroke-width="0.6"/>
<line x1="69" y1="263.5" x2="72" y2="263.5" stroke="#88f" stroke-width="0.6"/>
<line x1="87.2" y1="253.75" x2="87.2" y2="257.75" stroke="#88f" stroke-width="0.6"/>
<line x1="85.7" y1="253.75" x2="88.7" y2="253.75" stroke="#88f" stroke-width="0.6"/>
<line x1="85.7" y1="257.75" x2="88.7" y2="257.75" stroke="#88f" stroke-width="0.6"/>
<line x1="104" y1="240.75" x2="104" y2="246.75" stroke="#88f" stroke-width="0.6"/>
<line x1="102.5" y1="240.75" x2="105.5" y2="240.75" stroke="#88f" stroke-width="0.6"/>
<line x1="102.5" y1="246.75" x2="105.5" y2="246.75" stroke="#88f" stroke-width="0.6"/>
<line x1="109.5" y1="232.5" x2="109.5" y2="241.5" stroke="#88f" stroke-width="0.6"/>
<line x1="108" y1="232.5" x2="111" y2="232.5" stroke="#88f" stroke-width="0.6"/>
<line x1="108" y1="241.5" x2="111" y2="241.5" stroke="#88f" stroke-width="0.6"/>
<polygon points="32,271.25 30.05,274.75 33.95,274.75" fill="#0a14f0"/>
<polygon points="48.5,267.25 46.55,270.75 50.45,270.75" fill="#0a14f0"/>
<polygon points="70.5,260.75 68.55,264.25 72.45,264.25" fill="#0a14f0"/>
<polygon points="87.2,254 85.25,257.5 89.15,257.5" fill="#0a14f0"/>
<polygon points="104,242 102.05,245.5 105.95,245.5" fill="#0a14f0"/>
<polygon points="109.5,235.25 107.55,238.75 111.45,238.75" fill="#0a14f0"/>
<line x1="70.5" y1="259.75" x2="70.5" y2="262.75" stroke="#7b7" stroke-width="0.6"/>
<line x1="69" y1="259.75" x2="72" y2="259.75" stroke="#7b7" stroke-width="0.6"/>
<line x1="69" y1="262.75" x2="72" y2="262.75" stroke="#7b7" stroke-width="0.6"/>
<line x1="87.2" y1="245" x2="87.2" y2="251" stroke="#7b7" stroke-width="0.6"/>
<line x1="85.7" y1="245" x2="88.7" y2="245" stroke="#7b7" stroke-width="0.6"/>
<line x1="85.7" y1="251" x2="88.7" y2="251" stroke="#7b7" stroke-width="0.6"/>
<line x1="104" y1="233.25" x2="104" y2="239.25" stroke="#7b7" stroke-width="0.6"/>
<line x1="102.5" y1="233.25" x2="105.5" y2="233.25" stroke="#7b7" stroke-width="0.6"/>
<line x1="102.5" y1="239.25" x2="105.5" y2="239.25" stroke="#7b7" stroke-width="0.6"/>
<line x1="109.5" y1="223.75" x2="109.5" y2="233.75" stroke="#7b7" stroke-width="0.6"/>
<line x1="108" y1="223.75" x2="111" y2="223.75" stroke="#7b7" stroke-width="0.6"/>
<line x1="108" y1="233.75" x2="111" y2="233.75" stroke="#7b7" stroke-width="0.6"/>
<circle cx="32" cy="273" r="1.95" fill="#0b6b0b"/>
<circle cx="48.5" cy="268.5" r="1.95" fill="#0b6b0b"/>
<circle cx="70.5" cy="261.25" r="1.95" fill="#0b6b0b"/>
<circle cx="87.2" cy="248" r="1.95" fill="#0b6b0b"/>
<circle cx="104" cy="236.25" r="1.95" fill="#0b6b0b"/>
<circle cx="109.5" cy="228.75" r="1.95" fill="#0b6b0b"/>
<line x1="31.6" y1="204.3" x2="38" y2="204.3" stroke="#000" stroke-width="0.5"/>
<circle cx="34.8" cy="204.3" r="1.7" fill="#000"/>
<text x="0" y="0" font-size="6" text-anchor="start" fill="#333" transform="translate(42 206.28) scale(0.86 1)">Vehicle</text>
<line x1="31.6" y1="212.4" x2="38" y2="212.4" stroke="#a80000" stroke-width="0.5"/>
<rect x="33.1" y="210.7" width="3.4" height="3.4" fill="#a80000" stroke="none" stroke-width="0"/>
<text x="0" y="0" font-size="6" text-anchor="start" fill="#333" transform="translate(42 214.38) scale(0.86 1)">Anti-PD-1</text>
<line x1="31.6" y1="220.6" x2="38" y2="220.6" stroke="#0b6b0b" stroke-width="0.5"/>
<circle cx="34.8" cy="220.6" r="1.4" fill="#0b6b0b"/>
<text x="0" y="0" font-size="6" text-anchor="start" fill="#333" transform="translate(42 222.58) scale(0.86 1)">IOA-244</text>
<line x1="31.6" y1="229.4" x2="38" y2="229.4" stroke="#0a14f0" stroke-width="0.5"/>
<polygon points="34.8,227.91 33.15,230.89 36.45,230.89" fill="#0a14f0"/>
<text x="0" y="0" font-size="6" text-anchor="start" fill="#333" transform="translate(42 231.38) scale(0.86 1)">anti-PD-1 + IOA-244</text>
<line x1="143.7" y1="217.3" x2="143.7" y2="275.4" stroke="#333" stroke-width="0.9"/>
<line x1="143.3" y1="275" x2="219.2" y2="275" stroke="#333" stroke-width="0.9"/>
<line x1="141.7" y1="217.3" x2="143.7" y2="217.3" stroke="#333" stroke-width="0.8"/>
<text x="0" y="0" font-size="4.6" text-anchor="end" fill="#222" transform="translate(141.1 218.96) scale(0.95 1)">3,000</text>
<line x1="141.7" y1="236.53" x2="143.7" y2="236.53" stroke="#333" stroke-width="0.8"/>
<text x="0" y="0" font-size="4.6" text-anchor="end" fill="#222" transform="translate(141.1 238.19) scale(0.95 1)">2,000</text>
<line x1="141.7" y1="255.77" x2="143.7" y2="255.77" stroke="#333" stroke-width="0.8"/>
<text x="0" y="0" font-size="4.6" text-anchor="end" fill="#222" transform="translate(141.1 257.42) scale(0.95 1)">1,000</text>
<line x1="141.7" y1="275" x2="143.7" y2="275" stroke="#333" stroke-width="0.8"/>
<text x="0" y="0" font-size="4.6" text-anchor="end" fill="#222" transform="translate(141.1 276.66) scale(0.95 1)">0</text>
<line x1="152.7" y1="275" x2="152.7" y2="277" stroke="#333" stroke-width="0.8"/>
<text x="0" y="0" font-size="4.6" text-anchor="end" fill="#222" transform="translate(153.9 281) rotate(-45) scale(0.95 1)">15</text>
<line x1="165.88" y1="275" x2="165.88" y2="277" stroke="#333" stroke-width="0.8"/>
<text x="0" y="0" font-size="4.6" text-anchor="end" fill="#222" transform="translate(167.08 281) rotate(-45) scale(0.95 1)">18</text>
<line x1="183.45" y1="275" x2="183.45" y2="277" stroke="#333" stroke-width="0.8"/>
<text x="0" y="0" font-size="4.6" text-anchor="end" fill="#222" transform="translate(184.65 281) rotate(-45) scale(0.95 1)">22</text>
<line x1="196.63" y1="275" x2="196.63" y2="277" stroke="#333" stroke-width="0.8"/>
<text x="0" y="0" font-size="4.6" text-anchor="end" fill="#222" transform="translate(197.83 281) rotate(-45) scale(0.95 1)">25</text>
<line x1="209.81" y1="275" x2="209.81" y2="277" stroke="#333" stroke-width="0.8"/>
<text x="0" y="0" font-size="4.6" text-anchor="end" fill="#222" transform="translate(211.01 281) rotate(-45) scale(0.95 1)">28</text>
<line x1="214.2" y1="275" x2="214.2" y2="277" stroke="#333" stroke-width="0.8"/>
<text x="0" y="0" font-size="4.6" text-anchor="end" fill="#222" transform="translate(215.4 281) rotate(-45) scale(0.95 1)">29</text>
<text x="0" y="0" font-size="4.9" text-anchor="middle" fill="#111" transform="translate(127.4 246.2) rotate(-90) scale(0.92 1)">Tumor volume (mm3)</text>
<polyline points="152.7,272.79 165.88,269.42 183.45,261.34 196.63,251.25 209.81,241.15 214.2,230.38" fill="none" stroke="#333" stroke-width="0.5" stroke-linejoin="round"/>
<polyline points="152.7,272.88 165.88,269.61 183.45,262.02 196.63,251.92 209.81,242.5 214.2,239.13" fill="none" stroke="#333" stroke-width="0.5" stroke-linejoin="round"/>
<polyline points="152.7,273.08 165.88,270 183.45,263.36 196.63,257.31 209.81,251.25 214.2,246.53" fill="none" stroke="#333" stroke-width="0.5" stroke-linejoin="round"/>
<polyline points="152.7,273.17 165.88,270.38 183.45,265.38 196.63,261.34 209.81,254.61 214.2,251.25" fill="none" stroke="#333" stroke-width="0.5" stroke-linejoin="round"/>
<polyline points="152.7,273.27 165.88,271.15 183.45,268.08 196.63,265.38 209.81,260 214.2,255.96" fill="none" stroke="#333" stroke-width="0.5" stroke-linejoin="round"/>
<polyline points="152.7,272.98 165.88,269.81 183.45,262.69 196.63,253.94 209.81,247.21 214.2,240.48" fill="none" stroke="#333" stroke-width="0.5" stroke-linejoin="round"/>
<polyline points="152.7,273.08 165.88,270.19 183.45,264.04 196.63,258.65 209.81,253.27 214.2,247.88" fill="none" stroke="#333" stroke-width="0.5" stroke-linejoin="round"/>
<polyline points="152.7,273.27 165.88,270.77 183.45,267.31 196.63,263.46 209.81,257.69 214.2,252.88" fill="none" stroke="#333" stroke-width="0.5" stroke-linejoin="round"/>
<polyline points="152.7,273.17 165.88,270.58 183.45,266.35 196.63,260.38 209.81,255.77 214.2,250" fill="none" stroke="#333" stroke-width="0.5" stroke-linejoin="round"/>
<text x="183.6" y="215.8" font-size="7.6" text-anchor="middle" fill="#000">Vehicle</text>
<line x1="232.5" y1="215" x2="232.5" y2="276.4" stroke="#333" stroke-width="0.9"/>
<line x1="232.1" y1="276" x2="312.3" y2="276" stroke="#333" stroke-width="0.9"/>
<line x1="230.5" y1="215" x2="232.5" y2="215" stroke="#333" stroke-width="0.8"/>
<text x="0" y="0" font-size="4.6" text-anchor="end" fill="#222" transform="translate(229.9 216.66) scale(0.95 1)">3,000</text>
<line x1="230.5" y1="235.33" x2="232.5" y2="235.33" stroke="#333" stroke-width="0.8"/>
<text x="0" y="0" font-size="4.6" text-anchor="end" fill="#222" transform="translate(229.9 236.99) scale(0.95 1)">2,000</text>
<line x1="230.5" y1="255.67" x2="232.5" y2="255.67" stroke="#333" stroke-width="0.8"/>
<text x="0" y="0" font-size="4.6" text-anchor="end" fill="#222" transform="translate(229.9 257.32) scale(0.95 1)">1,000</text>
<line x1="230.5" y1="276" x2="232.5" y2="276" stroke="#333" stroke-width="0.8"/>
<text x="0" y="0" font-size="4.6" text-anchor="end" fill="#222" transform="translate(229.9 277.66) scale(0.95 1)">0</text>
<line x1="241.7" y1="276" x2="241.7" y2="278" stroke="#333" stroke-width="0.8"/>
<text x="0" y="0" font-size="4.6" text-anchor="end" fill="#222" transform="translate(242.9 282) rotate(-45) scale(0.95 1)">15</text>
<line x1="255.74" y1="276" x2="255.74" y2="278" stroke="#333" stroke-width="0.8"/>
<text x="0" y="0" font-size="4.6" text-anchor="end" fill="#222" transform="translate(256.94 282) rotate(-45) scale(0.95 1)">18</text>
<line x1="274.45" y1="276" x2="274.45" y2="278" stroke="#333" stroke-width="0.8"/>
<text x="0" y="0" font-size="4.6" text-anchor="end" fill="#222" transform="translate(275.65 282) rotate(-45) scale(0.95 1)">22</text>
<line x1="288.49" y1="276" x2="288.49" y2="278" stroke="#333" stroke-width="0.8"/>
<text x="0" y="0" font-size="4.6" text-anchor="end" fill="#222" transform="translate(289.69 282) rotate(-45) scale(0.95 1)">25</text>
<line x1="302.52" y1="276" x2="302.52" y2="278" stroke="#333" stroke-width="0.8"/>
<text x="0" y="0" font-size="4.6" text-anchor="end" fill="#222" transform="translate(303.72 282) rotate(-45) scale(0.95 1)">28</text>
<line x1="307.2" y1="276" x2="307.2" y2="278" stroke="#333" stroke-width="0.8"/>
<text x="0" y="0" font-size="4.6" text-anchor="end" fill="#222" transform="translate(308.4 282) rotate(-45) scale(0.95 1)">29</text>
<polyline points="241.7,274.11 255.74,270.75 274.45,262.68 288.49,249.87 302.52,241.84 307.2,237.37" fill="none" stroke="#3aa03a" stroke-width="0.5" stroke-linejoin="round"/>
<polyline points="241.7,274.17 255.74,271.12 274.45,264.02 288.49,255.93 302.52,247.86 307.2,245.15" fill="none" stroke="#3aa03a" stroke-width="0.5" stroke-linejoin="round"/>
<polyline points="241.7,274.27 255.74,271.32 274.45,265.37 288.49,257.29 302.52,249.87 307.2,246.52" fill="none" stroke="#3aa03a" stroke-width="0.5" stroke-linejoin="round"/>
<polyline points="241.7,274.21 255.74,270.92 274.45,264.61 288.49,254.65 302.52,248.55 307.2,245.91" fill="none" stroke="#3aa03a" stroke-width="0.5" stroke-linejoin="round"/>
<polyline points="241.7,274.37 255.74,271.93 274.45,268.07 288.49,264.02 302.52,259.31 307.2,257.96" fill="none" stroke="#3aa03a" stroke-width="0.5" stroke-linejoin="round"/>
<polyline points="241.7,274.27 255.74,272.34 274.45,270.75 288.49,266.71 302.52,262.66 307.2,261.32" fill="none" stroke="#3aa03a" stroke-width="0.5" stroke-linejoin="round"/>
<polyline points="274.45,273.97 288.49,272.1 302.52,269.39 307.2,266.71" fill="none" stroke="#3aa03a" stroke-width="0.5" stroke-linejoin="round"/>
<polyline points="241.7,274.37 255.74,272.95 274.45,272.77 288.49,270.75 302.52,265.83 307.2,259.73" fill="none" stroke="#3aa03a" stroke-width="0.5" stroke-linejoin="round"/>
<polyline points="241.7,274.17 255.74,270.71 274.45,263.8 288.49,252.62 302.52,246.52 307.2,245.09" fill="none" stroke="#3aa03a" stroke-width="0.5" stroke-linejoin="round"/>
<text x="274.8" y="214.6" font-size="7.6" text-anchor="middle" fill="#000">IOA-244</text>
<line x1="324.5" y1="215.9" x2="324.5" y2="276.1" stroke="#333" stroke-width="0.9"/>
<line x1="324.1" y1="275.7" x2="404.4" y2="275.7" stroke="#333" stroke-width="0.9"/>
<line x1="322.5" y1="215.9" x2="324.5" y2="215.9" stroke="#333" stroke-width="0.8"/>
<text x="0" y="0" font-size="4.6" text-anchor="end" fill="#222" transform="translate(321.9 217.56) scale(0.95 1)">3,000</text>
<line x1="322.5" y1="235.83" x2="324.5" y2="235.83" stroke="#333" stroke-width="0.8"/>
<text x="0" y="0" font-size="4.6" text-anchor="end" fill="#222" transform="translate(321.9 237.49) scale(0.95 1)">2,000</text>
<line x1="322.5" y1="255.77" x2="324.5" y2="255.77" stroke="#333" stroke-width="0.8"/>
<text x="0" y="0" font-size="4.6" text-anchor="end" fill="#222" transform="translate(321.9 257.42) scale(0.95 1)">1,000</text>
<line x1="322.5" y1="275.7" x2="324.5" y2="275.7" stroke="#333" stroke-width="0.8"/>
<text x="0" y="0" font-size="4.6" text-anchor="end" fill="#222" transform="translate(321.9 277.36) scale(0.95 1)">0</text>
<line x1="334.1" y1="275.7" x2="334.1" y2="277.7" stroke="#333" stroke-width="0.8"/>
<text x="0" y="0" font-size="4.6" text-anchor="end" fill="#222" transform="translate(335.3 281.7) rotate(-45) scale(0.95 1)">15</text>
<line x1="348.67" y1="275.7" x2="348.67" y2="277.7" stroke="#333" stroke-width="0.8"/>
<text x="0" y="0" font-size="4.6" text-anchor="end" fill="#222" transform="translate(349.87 281.7) rotate(-45) scale(0.95 1)">18</text>
<line x1="368.1" y1="275.7" x2="368.1" y2="277.7" stroke="#333" stroke-width="0.8"/>
<text x="0" y="0" font-size="4.6" text-anchor="end" fill="#222" transform="translate(369.3 281.7) rotate(-45) scale(0.95 1)">22</text>
<line x1="382.67" y1="275.7" x2="382.67" y2="277.7" stroke="#333" stroke-width="0.8"/>
<text x="0" y="0" font-size="4.6" text-anchor="end" fill="#222" transform="translate(383.87 281.7) rotate(-45) scale(0.95 1)">25</text>
<line x1="397.24" y1="275.7" x2="397.24" y2="277.7" stroke="#333" stroke-width="0.8"/>
<text x="0" y="0" font-size="4.6" text-anchor="end" fill="#222" transform="translate(398.44 281.7) rotate(-45) scale(0.95 1)">28</text>
<line x1="402.1" y1="275.7" x2="402.1" y2="277.7" stroke="#333" stroke-width="0.8"/>
<text x="0" y="0" font-size="4.6" text-anchor="end" fill="#222" transform="translate(403.3 281.7) rotate(-45) scale(0.95 1)">29</text>
<polyline points="334.1,274.54 348.67,269.78 368.1,258.96 382.67,244.52 397.24,238.03 402.1,225.07" fill="none" stroke="#c83a3a" stroke-width="0.5" stroke-linejoin="round"/>
<polyline points="334.1,274.5 348.67,270.12 368.1,261.85 382.67,246 397.24,241.63 402.1,232.25" fill="none" stroke="#c83a3a" stroke-width="0.5" stroke-linejoin="round"/>
<polyline points="334.1,274.6 348.67,270.52 368.1,263.28 382.67,248.13 397.24,240.22 402.1,235.83" fill="none" stroke="#c83a3a" stroke-width="0.5" stroke-linejoin="round"/>
<polyline points="334.1,274.5 348.67,270.92 368.1,266.17 382.67,252.46 397.24,243.81 402.1,240.22" fill="none" stroke="#c83a3a" stroke-width="0.5" stroke-linejoin="round"/>
<polyline points="334.1,274.6 348.67,271.31 368.1,267.63 382.67,254.63 397.24,248.13 402.1,243.81" fill="none" stroke="#c83a3a" stroke-width="0.5" stroke-linejoin="round"/>
<polyline points="334.1,274.7 348.67,272.11 368.1,270.52 382.67,266.17 397.24,260.39 402.1,256.8" fill="none" stroke="#c83a3a" stroke-width="0.5" stroke-linejoin="round"/>
<polyline points="334.1,274.6 348.67,272.31 368.1,271.23 382.67,267.63 397.24,263.28 402.1,260.39" fill="none" stroke="#c83a3a" stroke-width="0.5" stroke-linejoin="round"/>
<polyline points="334.1,274.7 348.67,272.51 368.1,271.31 382.67,268.32 397.24,264.74 402.1,262.54" fill="none" stroke="#c83a3a" stroke-width="0.5" stroke-linejoin="round"/>
<polyline points="334.1,274.8 348.67,272.91 368.1,271.71 382.67,269.78 397.24,266.47 402.1,265.89" fill="none" stroke="#c83a3a" stroke-width="0.5" stroke-linejoin="round"/>
<polyline points="334.1,274.7 348.67,272.71 368.1,270.92 382.67,268.72 397.24,265.73 402.1,263.28" fill="none" stroke="#c83a3a" stroke-width="0.5" stroke-linejoin="round"/>
<text x="361.6" y="214.8" font-size="7.6" text-anchor="middle" fill="#000">anti-PD1</text>
<line x1="422.2" y1="215" x2="422.2" y2="276.1" stroke="#333" stroke-width="0.9"/>
<line x1="421.8" y1="275.7" x2="506.6" y2="275.7" stroke="#333" stroke-width="0.9"/>
<line x1="420.2" y1="215" x2="422.2" y2="215" stroke="#333" stroke-width="0.8"/>
<text x="0" y="0" font-size="4.6" text-anchor="end" fill="#222" transform="translate(419.6 216.66) scale(0.95 1)">3,000</text>
<line x1="420.2" y1="235.23" x2="422.2" y2="235.23" stroke="#333" stroke-width="0.8"/>
<text x="0" y="0" font-size="4.6" text-anchor="end" fill="#222" transform="translate(419.6 236.89) scale(0.95 1)">2,000</text>
<line x1="420.2" y1="255.47" x2="422.2" y2="255.47" stroke="#333" stroke-width="0.8"/>
<text x="0" y="0" font-size="4.6" text-anchor="end" fill="#222" transform="translate(419.6 257.12) scale(0.95 1)">1,000</text>
<line x1="420.2" y1="275.7" x2="422.2" y2="275.7" stroke="#333" stroke-width="0.8"/>
<text x="0" y="0" font-size="4.6" text-anchor="end" fill="#222" transform="translate(419.6 277.36) scale(0.95 1)">0</text>
<line x1="432.5" y1="275.7" x2="432.5" y2="277.7" stroke="#333" stroke-width="0.8"/>
<text x="0" y="0" font-size="4.6" text-anchor="end" fill="#222" transform="translate(433.7 281.7) rotate(-45) scale(0.95 1)">15</text>
<line x1="447.26" y1="275.7" x2="447.26" y2="277.7" stroke="#333" stroke-width="0.8"/>
<text x="0" y="0" font-size="4.6" text-anchor="end" fill="#222" transform="translate(448.46 281.7) rotate(-45) scale(0.95 1)">18</text>
<line x1="466.95" y1="275.7" x2="466.95" y2="277.7" stroke="#333" stroke-width="0.8"/>
<text x="0" y="0" font-size="4.6" text-anchor="end" fill="#222" transform="translate(468.15 281.7) rotate(-45) scale(0.95 1)">22</text>
<line x1="481.71" y1="275.7" x2="481.71" y2="277.7" stroke="#333" stroke-width="0.8"/>
<text x="0" y="0" font-size="4.6" text-anchor="end" fill="#222" transform="translate(482.91 281.7) rotate(-45) scale(0.95 1)">25</text>
<line x1="496.48" y1="275.7" x2="496.48" y2="277.7" stroke="#333" stroke-width="0.8"/>
<text x="0" y="0" font-size="4.6" text-anchor="end" fill="#222" transform="translate(497.68 281.7) rotate(-45) scale(0.95 1)">28</text>
<line x1="501.4" y1="275.7" x2="501.4" y2="277.7" stroke="#333" stroke-width="0.8"/>
<text x="0" y="0" font-size="4.6" text-anchor="end" fill="#222" transform="translate(502.6 281.7) rotate(-45) scale(0.95 1)">29</text>
<polyline points="432.5,274.36 447.26,269.49 466.95,262.81 481.71,256.88 496.48,245.77 501.4,242.52" fill="none" stroke="#3040f5" stroke-width="0.5" stroke-linejoin="round"/>
<polyline points="432.5,274.49 447.26,270.03 466.95,265.79 481.71,261.33 496.48,253.18 501.4,250.97" fill="none" stroke="#3040f5" stroke-width="0.5" stroke-linejoin="round"/>
<polyline points="432.5,274.59 447.26,270.64 466.95,268.01 481.71,262.08 496.48,256.15 501.4,253.93" fill="none" stroke="#3040f5" stroke-width="0.5" stroke-linejoin="round"/>
<polyline points="432.5,274.49 447.26,271.25 466.95,269.49 481.71,264.29 496.48,258.36 501.4,258.36" fill="none" stroke="#3040f5" stroke-width="0.5" stroke-linejoin="round"/>
<polyline points="432.5,274.69 447.26,271.65 466.95,270.97 481.71,266.51 496.48,265.04 501.4,261.33" fill="none" stroke="#3040f5" stroke-width="0.5" stroke-linejoin="round"/>
<polyline points="432.5,274.79 447.26,272.66 466.95,272.44 481.71,268.74 496.48,268.01 501.4,267.26" fill="none" stroke="#3040f5" stroke-width="0.5" stroke-linejoin="round"/>
<polyline points="432.5,274.59 447.26,270.44 466.95,267.2 481.71,262.81 496.48,259.11 501.4,251.7" fill="none" stroke="#3040f5" stroke-width="0.5" stroke-linejoin="round"/>
<polyline points="432.5,274.69 447.26,271.05 466.95,268.62 481.71,263.56 496.48,264.29 501.4,259.86" fill="none" stroke="#3040f5" stroke-width="0.5" stroke-linejoin="round"/>
<polyline points="432.5,274.79 447.26,272.06 466.95,270.24 481.71,265.58 496.48,261.54 501.4,256.48" fill="none" stroke="#3040f5" stroke-width="0.5" stroke-linejoin="round"/>
<text x="467" y="216.8" font-size="7.6" text-anchor="middle" fill="#000">antiPD1+IOA-244</text>
<line x1="33.2" y1="344" x2="33.2" y2="425.7" stroke="#000" stroke-width="1.1"/>
<line x1="32.8" y1="425.3" x2="127" y2="425.3" stroke="#000" stroke-width="1.1"/>
<line x1="30.2" y1="344" x2="33.2" y2="344" stroke="#000" stroke-width="0.8"/>
<text x="0" y="0" font-size="5.9" text-anchor="end" fill="#222" transform="translate(29.7 346.12) scale(0.92 1)">2,500</text>
<line x1="30.2" y1="360.4" x2="33.2" y2="360.4" stroke="#000" stroke-width="0.8"/>
<text x="0" y="0" font-size="5.9" text-anchor="end" fill="#222" transform="translate(29.7 362.52) scale(0.92 1)">2,000</text>
<line x1="30.2" y1="376.5" x2="33.2" y2="376.5" stroke="#000" stroke-width="0.8"/>
<text x="0" y="0" font-size="5.9" text-anchor="end" fill="#222" transform="translate(29.7 378.62) scale(0.92 1)">1,500</text>
<line x1="30.2" y1="393" x2="33.2" y2="393" stroke="#000" stroke-width="0.8"/>
<text x="0" y="0" font-size="5.9" text-anchor="end" fill="#222" transform="translate(29.7 395.12) scale(0.92 1)">1,000</text>
<line x1="30.2" y1="409.1" x2="33.2" y2="409.1" stroke="#000" stroke-width="0.8"/>
<text x="0" y="0" font-size="5.9" text-anchor="end" fill="#222" transform="translate(29.7 411.22) scale(0.92 1)">500</text>
<line x1="30.2" y1="425.3" x2="33.2" y2="425.3" stroke="#000" stroke-width="0.8"/>
<text x="0" y="0" font-size="5.9" text-anchor="end" fill="#222" transform="translate(29.7 427.42) scale(0.92 1)">0</text>
<line x1="33.2" y1="425.3" x2="33.2" y2="428.3" stroke="#000" stroke-width="0.8"/>
<text x="0" y="0" font-size="5.9" text-anchor="middle" fill="#222" transform="translate(33.2 434.2) scale(0.92 1)">0</text>
<line x1="54.83" y1="425.3" x2="54.83" y2="428.3" stroke="#000" stroke-width="0.8"/>
<text x="0" y="0" font-size="5.9" text-anchor="middle" fill="#222" transform="translate(54.83 434.2) scale(0.92 1)">5</text>
<line x1="76.45" y1="425.3" x2="76.45" y2="428.3" stroke="#000" stroke-width="0.8"/>
<text x="0" y="0" font-size="5.9" text-anchor="middle" fill="#222" transform="translate(76.45 434.2) scale(0.92 1)">10</text>
<line x1="98.08" y1="425.3" x2="98.08" y2="428.3" stroke="#000" stroke-width="0.8"/>
<text x="0" y="0" font-size="5.9" text-anchor="middle" fill="#222" transform="translate(98.08 434.2) scale(0.92 1)">15</text>
<line x1="119.7" y1="425.3" x2="119.7" y2="428.3" stroke="#000" stroke-width="0.8"/>
<text x="0" y="0" font-size="5.9" text-anchor="middle" fill="#222" transform="translate(119.7 434.2) scale(0.92 1)">20</text>
<line x1="44.01" y1="425.3" x2="44.01" y2="427.1" stroke="#000" stroke-width="0.6"/>
<line x1="65.64" y1="425.3" x2="65.64" y2="427.1" stroke="#000" stroke-width="0.6"/>
<line x1="87.26" y1="425.3" x2="87.26" y2="427.1" stroke="#000" stroke-width="0.6"/>
<line x1="108.89" y1="425.3" x2="108.89" y2="427.1" stroke="#000" stroke-width="0.6"/>
<text x="0" y="0" font-size="6.3" text-anchor="middle" fill="#111" transform="translate(9.9 381.5) rotate(-90) scale(0.9 1)">Tumor volume (mm³)</text>
<text x="83.1" y="336" font-size="10.7" text-anchor="middle" fill="#000">A20</text>
<text x="0" y="0" font-size="6.4" text-anchor="middle" fill="#111" transform="translate(79.4 445.3) scale(0.9 1)">Day post engraftment</text>
<polyline points="37.53,424 46.18,422.6 63.48,419.4 76.45,415 93.75,406.2 111.05,381.8 124.03,364.6" fill="none" stroke="#000" stroke-width="0.6" stroke-linejoin="round"/>
<polyline points="37.53,424 46.18,423 63.48,421.5 76.45,420 93.75,416.3 111.05,404.9 124.03,399" fill="none" stroke="#a80000" stroke-width="0.6" stroke-linejoin="round"/>
<polyline points="37.53,424 46.18,423.5 63.48,422.5 76.45,421.5 93.75,420.8 111.05,419.4 124.03,418.4" fill="none" stroke="#888" stroke-width="0.6" stroke-linejoin="round"/>
<line x1="63.48" y1="417.9" x2="63.48" y2="420.9" stroke="#555" stroke-width="0.7"/>
<line x1="61.98" y1="417.9" x2="64.97" y2="417.9" stroke="#555" stroke-width="0.7"/>
<line x1="61.98" y1="420.9" x2="64.97" y2="420.9" stroke="#555" stroke-width="0.7"/>
<line x1="76.45" y1="412.5" x2="76.45" y2="417.5" stroke="#555" stroke-width="0.7"/>
<line x1="74.95" y1="412.5" x2="77.95" y2="412.5" stroke="#555" stroke-width="0.7"/>
<line x1="74.95" y1="417.5" x2="77.95" y2="417.5" stroke="#555" stroke-width="0.7"/>
<line x1="93.75" y1="402" x2="93.75" y2="410.4" stroke="#555" stroke-width="0.7"/>
<line x1="92.25" y1="402" x2="95.25" y2="402" stroke="#555" stroke-width="0.7"/>
<line x1="92.25" y1="410.4" x2="95.25" y2="410.4" stroke="#555" stroke-width="0.7"/>
<line x1="111.05" y1="373.3" x2="111.05" y2="390.3" stroke="#555" stroke-width="0.7"/>
<line x1="109.55" y1="373.3" x2="112.55" y2="373.3" stroke="#555" stroke-width="0.7"/>
<line x1="109.55" y1="390.3" x2="112.55" y2="390.3" stroke="#555" stroke-width="0.7"/>
<line x1="124.03" y1="353.6" x2="124.03" y2="375.6" stroke="#555" stroke-width="0.7"/>
<line x1="122.53" y1="353.6" x2="125.53" y2="353.6" stroke="#555" stroke-width="0.7"/>
<line x1="122.53" y1="375.6" x2="125.53" y2="375.6" stroke="#555" stroke-width="0.7"/>
<circle cx="37.53" cy="424" r="2" fill="#000"/>
<circle cx="46.18" cy="422.6" r="2" fill="#000"/>
<circle cx="63.48" cy="419.4" r="2" fill="#000"/>
<circle cx="76.45" cy="415" r="2" fill="#000"/>
<circle cx="93.75" cy="406.2" r="2" fill="#000"/>
<circle cx="111.05" cy="381.8" r="2" fill="#000"/>
<circle cx="124.03" cy="364.6" r="2" fill="#000"/>
<line x1="63.48" y1="420.5" x2="63.48" y2="422.5" stroke="#b82020" stroke-width="0.7"/>
<line x1="61.98" y1="420.5" x2="64.97" y2="420.5" stroke="#b82020" stroke-width="0.7"/>
<line x1="61.98" y1="422.5" x2="64.97" y2="422.5" stroke="#b82020" stroke-width="0.7"/>
<line x1="76.45" y1="418.5" x2="76.45" y2="421.5" stroke="#b82020" stroke-width="0.7"/>
<line x1="74.95" y1="418.5" x2="77.95" y2="418.5" stroke="#b82020" stroke-width="0.7"/>
<line x1="74.95" y1="421.5" x2="77.95" y2="421.5" stroke="#b82020" stroke-width="0.7"/>
<line x1="93.75" y1="413.3" x2="93.75" y2="419.3" stroke="#b82020" stroke-width="0.7"/>
<line x1="92.25" y1="413.3" x2="95.25" y2="413.3" stroke="#b82020" stroke-width="0.7"/>
<line x1="92.25" y1="419.3" x2="95.25" y2="419.3" stroke="#b82020" stroke-width="0.7"/>
<line x1="111.05" y1="396.9" x2="111.05" y2="412.9" stroke="#b82020" stroke-width="0.7"/>
<line x1="109.55" y1="396.9" x2="112.55" y2="396.9" stroke="#b82020" stroke-width="0.7"/>
<line x1="109.55" y1="412.9" x2="112.55" y2="412.9" stroke="#b82020" stroke-width="0.7"/>
<line x1="124.03" y1="390" x2="124.03" y2="408" stroke="#b82020" stroke-width="0.7"/>
<line x1="122.53" y1="390" x2="125.53" y2="390" stroke="#b82020" stroke-width="0.7"/>
<line x1="122.53" y1="408" x2="125.53" y2="408" stroke="#b82020" stroke-width="0.7"/>
<rect x="35.53" y="422" width="4" height="4" fill="#a80000" stroke="none" stroke-width="0"/>
<rect x="44.18" y="421" width="4" height="4" fill="#a80000" stroke="none" stroke-width="0"/>
<rect x="61.48" y="419.5" width="4" height="4" fill="#a80000" stroke="none" stroke-width="0"/>
<rect x="74.45" y="418" width="4" height="4" fill="#a80000" stroke="none" stroke-width="0"/>
<rect x="91.75" y="414.3" width="4" height="4" fill="#a80000" stroke="none" stroke-width="0"/>
<rect x="109.05" y="402.9" width="4" height="4" fill="#a80000" stroke="none" stroke-width="0"/>
<rect x="122.03" y="397" width="4" height="4" fill="#a80000" stroke="none" stroke-width="0"/>
<line x1="63.48" y1="421.5" x2="63.48" y2="423.5" stroke="#555" stroke-width="0.7"/>
<line x1="61.98" y1="421.5" x2="64.97" y2="421.5" stroke="#555" stroke-width="0.7"/>
<line x1="61.98" y1="423.5" x2="64.97" y2="423.5" stroke="#555" stroke-width="0.7"/>
<line x1="76.45" y1="420" x2="76.45" y2="423" stroke="#555" stroke-width="0.7"/>
<line x1="74.95" y1="420" x2="77.95" y2="420" stroke="#555" stroke-width="0.7"/>
<line x1="74.95" y1="423" x2="77.95" y2="423" stroke="#555" stroke-width="0.7"/>
<line x1="93.75" y1="417.8" x2="93.75" y2="423.8" stroke="#555" stroke-width="0.7"/>
<line x1="92.25" y1="417.8" x2="95.25" y2="417.8" stroke="#555" stroke-width="0.7"/>
<line x1="92.25" y1="423.8" x2="95.25" y2="423.8" stroke="#555" stroke-width="0.7"/>
<line x1="111.05" y1="415.9" x2="111.05" y2="422.9" stroke="#555" stroke-width="0.7"/>
<line x1="109.55" y1="415.9" x2="112.55" y2="415.9" stroke="#555" stroke-width="0.7"/>
<line x1="109.55" y1="422.9" x2="112.55" y2="422.9" stroke="#555" stroke-width="0.7"/>
<line x1="124.03" y1="412.4" x2="124.03" y2="424.4" stroke="#555" stroke-width="0.7"/>
<line x1="122.53" y1="412.4" x2="125.53" y2="412.4" stroke="#555" stroke-width="0.7"/>
<line x1="122.53" y1="424.4" x2="125.53" y2="424.4" stroke="#555" stroke-width="0.7"/>
<polygon points="37.53,425.8 35.53,422.2 39.53,422.2" fill="#0a14f0"/>
<polygon points="46.18,425.3 44.18,421.7 48.18,421.7" fill="#0a14f0"/>
<polygon points="63.48,424.3 61.48,420.7 65.47,420.7" fill="#0a14f0"/>
<polygon points="76.45,423.3 74.45,419.7 78.45,419.7" fill="#0a14f0"/>
<polygon points="93.75,422.6 91.75,419 95.75,419" fill="#0a14f0"/>
<polygon points="111.05,421.2 109.05,417.6 113.05,417.6" fill="#0a14f0"/>
<polygon points="124.03,420.2 122.03,416.6 126.03,416.6" fill="#0a14f0"/>
<line x1="35.2" y1="347.4" x2="41.6" y2="347.4" stroke="#000" stroke-width="0.5"/>
<circle cx="38.4" cy="347.4" r="2" fill="#000"/>
<text x="0" y="0" font-size="6.2" text-anchor="start" fill="#111" transform="translate(45.8 349.45) scale(0.9 1)">vehicle</text>
<line x1="35.2" y1="356.7" x2="41.6" y2="356.7" stroke="#a80000" stroke-width="0.5"/>
<rect x="36.4" y="354.7" width="4" height="4" fill="#a80000" stroke="none" stroke-width="0"/>
<text x="0" y="0" font-size="6.2" text-anchor="start" fill="#111" transform="translate(45.8 358.75) scale(0.9 1)">anti-PD-1</text>
<line x1="35.2" y1="366" x2="41.6" y2="366" stroke="#0a14f0" stroke-width="0.5"/>
<polygon points="38.4,367.8 36.4,364.2 40.4,364.2" fill="#0a14f0"/>
<text x="0" y="0" font-size="6.2" text-anchor="start" fill="#111" transform="translate(45.8 368.05) scale(0.9 1)">anti-PD-1 +IOA-244</text>
<line x1="128" y1="367.3" x2="128" y2="420.4" stroke="#555" stroke-width="1"/>
<line x1="130.3" y1="367.3" x2="130.3" y2="390.7" stroke="#555" stroke-width="1"/>
<text x="131.9" y="377.3" font-size="4.5" text-anchor="start" fill="#222">0.0076</text>
<text x="0" y="0" font-size="4.5" text-anchor="start" fill="#222" transform="translate(128.9 412.2) scale(0.86 1)">&lt;0.0001</text>
<line x1="176.9" y1="349.4" x2="176.9" y2="433.7" stroke="#000" stroke-width="1.1"/>
<line x1="176.5" y1="433.3" x2="275.6" y2="433.3" stroke="#000" stroke-width="1.1"/>
<line x1="173.9" y1="349.4" x2="176.9" y2="349.4" stroke="#000" stroke-width="0.8"/>
<text x="173.5" y="351.67" font-size="6.3" text-anchor="end" fill="#222">4,000</text>
<line x1="173.9" y1="370.38" x2="176.9" y2="370.38" stroke="#000" stroke-width="0.8"/>
<text x="173.5" y="372.64" font-size="6.3" text-anchor="end" fill="#222">3,000</text>
<line x1="173.9" y1="391.35" x2="176.9" y2="391.35" stroke="#000" stroke-width="0.8"/>
<text x="173.5" y="393.62" font-size="6.3" text-anchor="end" fill="#222">2,000</text>
<line x1="173.9" y1="412.32" x2="176.9" y2="412.32" stroke="#000" stroke-width="0.8"/>
<text x="173.5" y="414.59" font-size="6.3" text-anchor="end" fill="#222">1,000</text>
<line x1="173.9" y1="433.3" x2="176.9" y2="433.3" stroke="#000" stroke-width="0.8"/>
<text x="173.5" y="435.57" font-size="6.3" text-anchor="end" fill="#222">0</text>
<line x1="176.9" y1="433.3" x2="176.9" y2="436.3" stroke="#000" stroke-width="0.8"/>
<text x="176.9" y="442.3" font-size="6.3" text-anchor="middle" fill="#222">0</text>
<line x1="198.38" y1="433.3" x2="198.38" y2="436.3" stroke="#000" stroke-width="0.8"/>
<text x="198.38" y="442.3" font-size="6.3" text-anchor="middle" fill="#222">5</text>
<line x1="219.85" y1="433.3" x2="219.85" y2="436.3" stroke="#000" stroke-width="0.8"/>
<text x="219.85" y="442.3" font-size="6.3" text-anchor="middle" fill="#222">10</text>
<line x1="241.32" y1="433.3" x2="241.32" y2="436.3" stroke="#000" stroke-width="0.8"/>
<text x="241.32" y="442.3" font-size="6.3" text-anchor="middle" fill="#222">15</text>
<line x1="262.8" y1="433.3" x2="262.8" y2="436.3" stroke="#000" stroke-width="0.8"/>
<text x="262.8" y="442.3" font-size="6.3" text-anchor="middle" fill="#222">20</text>
<text x="0" y="0" font-size="6.3" text-anchor="middle" fill="#111" transform="translate(155.4 390) rotate(-90) scale(0.9 1)">Tumor volume (mm³)</text>
<polyline points="181.19,432.67 189.78,431.62 206.97,428.27 219.85,421.13 237.03,408.97 254.21,381.7 267.1,359.47" fill="none" stroke="#000" stroke-width="0.85" stroke-linejoin="round"/>
<polyline points="181.19,432.46 189.78,431.2 206.97,428.06 219.85,421.55 237.03,408.97 254.21,383.59 267.1,368.49" fill="none" stroke="#000" stroke-width="0.85" stroke-linejoin="round"/>
<polyline points="181.19,432.67 189.78,431.83 206.97,430.15 219.85,427.01 237.03,421.13 254.21,386.11 267.1,369.33" fill="none" stroke="#000" stroke-width="0.85" stroke-linejoin="round"/>
<polyline points="181.19,432.67 189.78,432.04 206.97,430.15 219.85,424.91 237.03,417.99 254.21,404.77 267.1,394.71" fill="none" stroke="#000" stroke-width="0.85" stroke-linejoin="round"/>
<polyline points="181.19,432.57 189.78,431.41 206.97,429.11 219.85,425.12 237.03,423.02 254.21,408.97 267.1,398.9" fill="none" stroke="#000" stroke-width="0.85" stroke-linejoin="round"/>
<polyline points="181.19,432.78 189.78,431.83 206.97,431.2 219.85,429.11 237.03,426.17 254.21,411.91 267.1,399.74" fill="none" stroke="#000" stroke-width="0.85" stroke-linejoin="round"/>
<polyline points="181.19,432.88 189.78,432.04 206.97,430.78 219.85,430.15 237.03,427.22 254.21,417.99 267.1,405.19" fill="none" stroke="#000" stroke-width="0.85" stroke-linejoin="round"/>
<polyline points="181.19,432.67 189.78,432.25 206.97,431.2 219.85,429.11 237.03,426.17 254.21,414.42 267.1,407.92" fill="none" stroke="#000" stroke-width="0.85" stroke-linejoin="round"/>
<polyline points="181.19,432.78 189.78,432.04 206.97,430.57 219.85,428.06 237.03,424.49 254.21,410.23 267.1,401.84" fill="none" stroke="#000" stroke-width="0.85" stroke-linejoin="round"/>
<text x="228.5" y="347" font-size="7.9" text-anchor="middle" fill="#000">Vehicle</text>
<line x1="293" y1="347.5" x2="293" y2="433.4" stroke="#000" stroke-width="1.1"/>
<line x1="292.6" y1="433" x2="393.75" y2="433" stroke="#000" stroke-width="1.1"/>
<line x1="290" y1="347.5" x2="293" y2="347.5" stroke="#000" stroke-width="0.8"/>
<text x="289.6" y="349.77" font-size="6.3" text-anchor="end" fill="#222">2,500</text>
<line x1="290" y1="364.6" x2="293" y2="364.6" stroke="#000" stroke-width="0.8"/>
<text x="289.6" y="366.87" font-size="6.3" text-anchor="end" fill="#222">2,000</text>
<line x1="290" y1="381.7" x2="293" y2="381.7" stroke="#000" stroke-width="0.8"/>
<text x="289.6" y="383.97" font-size="6.3" text-anchor="end" fill="#222">1,500</text>
<line x1="290" y1="398.8" x2="293" y2="398.8" stroke="#000" stroke-width="0.8"/>
<text x="289.6" y="401.07" font-size="6.3" text-anchor="end" fill="#222">1,000</text>
<line x1="290" y1="415.9" x2="293" y2="415.9" stroke="#000" stroke-width="0.8"/>
<text x="289.6" y="418.17" font-size="6.3" text-anchor="end" fill="#222">500</text>
<line x1="290" y1="433" x2="293" y2="433" stroke="#000" stroke-width="0.8"/>
<text x="289.6" y="435.27" font-size="6.3" text-anchor="end" fill="#222">0</text>
<line x1="293" y1="433" x2="293" y2="436" stroke="#000" stroke-width="0.8"/>
<text x="293" y="442" font-size="6.3" text-anchor="middle" fill="#222">0</text>
<line x1="314.75" y1="433" x2="314.75" y2="436" stroke="#000" stroke-width="0.8"/>
<text x="314.75" y="442" font-size="6.3" text-anchor="middle" fill="#222">5</text>
<line x1="336.5" y1="433" x2="336.5" y2="436" stroke="#000" stroke-width="0.8"/>
<text x="336.5" y="442" font-size="6.3" text-anchor="middle" fill="#222">10</text>
<line x1="358.25" y1="433" x2="358.25" y2="436" stroke="#000" stroke-width="0.8"/>
<text x="358.25" y="442" font-size="6.3" text-anchor="middle" fill="#222">15</text>
<line x1="380" y1="433" x2="380" y2="436" stroke="#000" stroke-width="0.8"/>
<text x="380" y="442" font-size="6.3" text-anchor="middle" fill="#222">20</text>
<polyline points="297.35,431.63 306.05,428.9 323.45,425.13 336.5,417.61 353.9,406.32 371.3,364.6 384.35,353.66" fill="none" stroke="#a80f0f" stroke-width="0.85" stroke-linejoin="round"/>
<polyline points="297.35,431.97 306.05,429.58 323.45,426.16 336.5,419.32 353.9,409.06 371.3,378.28 384.35,372.12" fill="none" stroke="#a80f0f" stroke-width="0.85" stroke-linejoin="round"/>
<polyline points="297.35,431.8 306.05,429.92 323.45,426.84 336.5,421.03 353.9,413.16 371.3,387.51 384.35,374.18" fill="none" stroke="#a80f0f" stroke-width="0.85" stroke-linejoin="round"/>
<polyline points="297.35,431.97 306.05,430.26 323.45,427.19 336.5,424.11 353.9,421.37 371.3,410.77 384.35,392.99" fill="none" stroke="#a80f0f" stroke-width="0.85" stroke-linejoin="round"/>
<polyline points="297.35,432.14 306.05,430.61 323.45,427.53 336.5,426.16 353.9,422.74 371.3,413.51 384.35,399.48" fill="none" stroke="#a80f0f" stroke-width="0.85" stroke-linejoin="round"/>
<polyline points="297.35,431.63 306.05,430.95 323.45,430.26 336.5,429.92 353.9,430.61 371.3,430.95 384.35,430.95" fill="none" stroke="#a80f0f" stroke-width="0.85" stroke-linejoin="round"/>
<polyline points="297.35,431.97 306.05,431.29 323.45,430.95 336.5,430.95 353.9,431.29 371.3,431.63 384.35,431.63" fill="none" stroke="#a80f0f" stroke-width="0.85" stroke-linejoin="round"/>
<polyline points="297.35,432.32 306.05,431.63 323.45,431.29 336.5,430.95 353.9,430.26 371.3,430.95 384.35,431.29" fill="none" stroke="#a80f0f" stroke-width="0.85" stroke-linejoin="round"/>
<polyline points="297.35,431.8 306.05,431.46 323.45,431.63 336.5,431.97 353.9,431.97 371.3,432.32 384.35,432.32" fill="none" stroke="#a80f0f" stroke-width="0.85" stroke-linejoin="round"/>
<polyline points="297.35,431.97 306.05,430.95 323.45,429.92 336.5,428.9 353.9,427.87 371.3,429.58 384.35,430.26" fill="none" stroke="#a80f0f" stroke-width="0.85" stroke-linejoin="round"/>
<text x="346" y="346.2" font-size="7.9" text-anchor="middle" fill="#000">anti-PD1</text>
<line x1="409.5" y1="346.75" x2="409.5" y2="433.4" stroke="#000" stroke-width="1.1"/>
<line x1="409.1" y1="433" x2="511.25" y2="433" stroke="#000" stroke-width="1.1"/>
<line x1="406.5" y1="346.75" x2="409.5" y2="346.75" stroke="#000" stroke-width="0.8"/>
<text x="406.1" y="349.02" font-size="6.3" text-anchor="end" fill="#222">2,500</text>
<line x1="406.5" y1="364" x2="409.5" y2="364" stroke="#000" stroke-width="0.8"/>
<text x="406.1" y="366.27" font-size="6.3" text-anchor="end" fill="#222">2,000</text>
<line x1="406.5" y1="381.25" x2="409.5" y2="381.25" stroke="#000" stroke-width="0.8"/>
<text x="406.1" y="383.52" font-size="6.3" text-anchor="end" fill="#222">1,500</text>
<line x1="406.5" y1="398.5" x2="409.5" y2="398.5" stroke="#000" stroke-width="0.8"/>
<text x="406.1" y="400.77" font-size="6.3" text-anchor="end" fill="#222">1,000</text>
<line x1="406.5" y1="415.75" x2="409.5" y2="415.75" stroke="#000" stroke-width="0.8"/>
<text x="406.1" y="418.02" font-size="6.3" text-anchor="end" fill="#222">500</text>
<line x1="406.5" y1="433" x2="409.5" y2="433" stroke="#000" stroke-width="0.8"/>
<text x="406.1" y="435.27" font-size="6.3" text-anchor="end" fill="#222">0</text>
<line x1="409.5" y1="433" x2="409.5" y2="436" stroke="#000" stroke-width="0.8"/>
<text x="409.5" y="442" font-size="6.3" text-anchor="middle" fill="#222">0</text>
<line x1="431.38" y1="433" x2="431.38" y2="436" stroke="#000" stroke-width="0.8"/>
<text x="431.38" y="442" font-size="6.3" text-anchor="middle" fill="#222">5</text>
<line x1="453.25" y1="433" x2="453.25" y2="436" stroke="#000" stroke-width="0.8"/>
<text x="453.25" y="442" font-size="6.3" text-anchor="middle" fill="#222">10</text>
<line x1="475.12" y1="433" x2="475.12" y2="436" stroke="#000" stroke-width="0.8"/>
<text x="475.12" y="442" font-size="6.3" text-anchor="middle" fill="#222">15</text>
<line x1="497" y1="433" x2="497" y2="436" stroke="#000" stroke-width="0.8"/>
<text x="497" y="442" font-size="6.3" text-anchor="middle" fill="#222">20</text>
<polyline points="413.88,431.62 422.62,430.24 440.12,427.82 453.25,424.38 470.75,419.89 488.25,418.51 501.38,415.4" fill="none" stroke="#1a1aff" stroke-width="0.85" stroke-linejoin="round"/>
<polyline points="413.88,431.96 422.62,430.58 440.12,428.51 453.25,425.06 470.75,421.27 488.25,418.17 501.38,415.75" fill="none" stroke="#1a1aff" stroke-width="0.85" stroke-linejoin="round"/>
<polyline points="413.88,431.79 422.62,430.93 440.12,428.86 453.25,427.82 470.75,426.1 488.25,426.79 501.38,425.41" fill="none" stroke="#1a1aff" stroke-width="0.85" stroke-linejoin="round"/>
<polyline points="413.88,431.96 422.62,431.27 440.12,429.55 453.25,428.51 470.75,427.82 488.25,428.86 501.38,427.82" fill="none" stroke="#1a1aff" stroke-width="0.85" stroke-linejoin="round"/>
<polyline points="413.88,432.14 422.62,431.45 440.12,430.24 453.25,429.55 470.75,428.86 488.25,429.89 501.38,429.55" fill="none" stroke="#1a1aff" stroke-width="0.85" stroke-linejoin="round"/>
<polyline points="413.88,431.62 422.62,431.1 440.12,430.58 453.25,429.89 470.75,429.2 488.25,430.24 501.38,430.58" fill="none" stroke="#1a1aff" stroke-width="0.85" stroke-linejoin="round"/>
<polyline points="413.88,431.96 422.62,431.62 440.12,431.27 453.25,430.93 470.75,430.93 488.25,431.27 501.38,431.62" fill="none" stroke="#1a1aff" stroke-width="0.85" stroke-linejoin="round"/>
<polyline points="413.88,432.31 422.62,431.79 440.12,430.93 453.25,430.24 470.75,429.55 488.25,429.2 501.38,428.86" fill="none" stroke="#1a1aff" stroke-width="0.85" stroke-linejoin="round"/>
<text x="463.1" y="348" font-size="7.9" text-anchor="middle" fill="#000">anti-PD1+IOA-244</text>
<line x1="29.2" y1="508.9" x2="29.2" y2="597.9" stroke="#000" stroke-width="1.1"/>
<line x1="28.8" y1="597.5" x2="132.4" y2="597.5" stroke="#000" stroke-width="1.1"/>
<line x1="26" y1="508.9" x2="29.2" y2="508.9" stroke="#000" stroke-width="0.8"/>
<text x="0" y="0" font-size="6" text-anchor="end" fill="#222" transform="translate(25.5 511.06) scale(0.92 1)">800</text>
<line x1="26" y1="531.1" x2="29.2" y2="531.1" stroke="#000" stroke-width="0.8"/>
<text x="0" y="0" font-size="6" text-anchor="end" fill="#222" transform="translate(25.5 533.26) scale(0.92 1)">600</text>
<line x1="26" y1="553.4" x2="29.2" y2="553.4" stroke="#000" stroke-width="0.8"/>
<text x="0" y="0" font-size="6" text-anchor="end" fill="#222" transform="translate(25.5 555.56) scale(0.92 1)">400</text>
<line x1="26" y1="575.1" x2="29.2" y2="575.1" stroke="#000" stroke-width="0.8"/>
<text x="0" y="0" font-size="6" text-anchor="end" fill="#222" transform="translate(25.5 577.26) scale(0.92 1)">200</text>
<line x1="26" y1="597.5" x2="29.2" y2="597.5" stroke="#000" stroke-width="0.8"/>
<text x="0" y="0" font-size="6" text-anchor="end" fill="#222" transform="translate(25.5 599.66) scale(0.92 1)">0</text>
<line x1="29.3" y1="597.5" x2="29.3" y2="600.7" stroke="#000" stroke-width="0.8"/>
<text x="0" y="0" font-size="6" text-anchor="middle" fill="#222" transform="translate(29.3 606.9) scale(0.92 1)">0</text>
<line x1="43.3" y1="597.5" x2="43.3" y2="600.7" stroke="#000" stroke-width="0.8"/>
<text x="0" y="0" font-size="6" text-anchor="middle" fill="#222" transform="translate(43.3 606.9) scale(0.92 1)">5</text>
<line x1="57.3" y1="597.5" x2="57.3" y2="600.7" stroke="#000" stroke-width="0.8"/>
<text x="0" y="0" font-size="6" text-anchor="middle" fill="#222" transform="translate(57.3 606.9) scale(0.92 1)">10</text>
<line x1="71.3" y1="597.5" x2="71.3" y2="600.7" stroke="#000" stroke-width="0.8"/>
<text x="0" y="0" font-size="6" text-anchor="middle" fill="#222" transform="translate(71.3 606.9) scale(0.92 1)">15</text>
<line x1="85.3" y1="597.5" x2="85.3" y2="600.7" stroke="#000" stroke-width="0.8"/>
<text x="0" y="0" font-size="6" text-anchor="middle" fill="#222" transform="translate(85.3 606.9) scale(0.92 1)">20</text>
<line x1="99.3" y1="597.5" x2="99.3" y2="600.7" stroke="#000" stroke-width="0.8"/>
<text x="0" y="0" font-size="6" text-anchor="middle" fill="#222" transform="translate(99.3 606.9) scale(0.92 1)">25</text>
<line x1="113.3" y1="597.5" x2="113.3" y2="600.7" stroke="#000" stroke-width="0.8"/>
<text x="0" y="0" font-size="6" text-anchor="middle" fill="#222" transform="translate(113.3 606.9) scale(0.92 1)">30</text>
<line x1="127.3" y1="597.5" x2="127.3" y2="600.7" stroke="#000" stroke-width="0.8"/>
<text x="0" y="0" font-size="6" text-anchor="middle" fill="#222" transform="translate(127.3 606.9) scale(0.92 1)">35</text>
<line x1="36.3" y1="597.5" x2="36.3" y2="599.42" stroke="#000" stroke-width="0.6"/>
<line x1="50.3" y1="597.5" x2="50.3" y2="599.42" stroke="#000" stroke-width="0.6"/>
<line x1="64.3" y1="597.5" x2="64.3" y2="599.42" stroke="#000" stroke-width="0.6"/>
<line x1="78.3" y1="597.5" x2="78.3" y2="599.42" stroke="#000" stroke-width="0.6"/>
<line x1="92.3" y1="597.5" x2="92.3" y2="599.42" stroke="#000" stroke-width="0.6"/>
<line x1="106.3" y1="597.5" x2="106.3" y2="599.42" stroke="#000" stroke-width="0.6"/>
<line x1="120.3" y1="597.5" x2="120.3" y2="599.42" stroke="#000" stroke-width="0.6"/>
<text x="0" y="0" font-size="6.8" text-anchor="middle" fill="#111" transform="translate(8 551.3) rotate(-90) scale(0.92 1)">Tumor volume (mm³)</text>
<text x="88.1" y="501" font-size="10.6" text-anchor="middle" fill="#000">Pan02</text>
<text x="0" y="0" font-size="7" text-anchor="middle" fill="#111" transform="translate(81.5 621.5) scale(0.9 1)">Day post engraftment</text>
<polyline points="32.1,592.29 34.9,589.75 48.9,588.64 57.3,588.64 68.5,588.64 76.9,586.42 88.1,580.89 96.5,575.9 107.7,565.94 116.1,559.85 124.5,548.77 130.1,537.14" fill="none" stroke="#000" stroke-width="0.55" stroke-linejoin="round"/>
<polyline points="32.1,592.29 34.9,590.86 48.9,589.75 57.3,589.75 68.5,589.19 76.9,588.64 88.1,585.54 96.5,582.55 107.7,572.03 116.1,565.94 124.5,558.18 130.1,548.77" fill="none" stroke="#a80000" stroke-width="0.55" stroke-linejoin="round"/>
<polyline points="32.1,592.29 34.9,591.41 48.9,590.3 57.3,590.3 68.5,590.3 76.9,589.75 88.1,588.42 96.5,586.42 107.7,579.78 116.1,574.8 124.5,568.15 130.1,562.06" fill="none" stroke="#0a14f0" stroke-width="0.55" stroke-linejoin="round"/>
<line x1="76.9" y1="584.42" x2="76.9" y2="588.42" stroke="#666" stroke-width="0.6"/>
<line x1="75.3" y1="584.42" x2="78.5" y2="584.42" stroke="#666" stroke-width="0.6"/>
<line x1="75.3" y1="588.42" x2="78.5" y2="588.42" stroke="#666" stroke-width="0.6"/>
<line x1="88.1" y1="577.89" x2="88.1" y2="583.89" stroke="#666" stroke-width="0.6"/>
<line x1="86.5" y1="577.89" x2="89.7" y2="577.89" stroke="#666" stroke-width="0.6"/>
<line x1="86.5" y1="583.89" x2="89.7" y2="583.89" stroke="#666" stroke-width="0.6"/>
<line x1="96.5" y1="572.4" x2="96.5" y2="579.4" stroke="#666" stroke-width="0.6"/>
<line x1="94.9" y1="572.4" x2="98.1" y2="572.4" stroke="#666" stroke-width="0.6"/>
<line x1="94.9" y1="579.4" x2="98.1" y2="579.4" stroke="#666" stroke-width="0.6"/>
<line x1="107.7" y1="561.44" x2="107.7" y2="570.44" stroke="#666" stroke-width="0.6"/>
<line x1="106.1" y1="561.44" x2="109.3" y2="561.44" stroke="#666" stroke-width="0.6"/>
<line x1="106.1" y1="570.44" x2="109.3" y2="570.44" stroke="#666" stroke-width="0.6"/>
<line x1="116.1" y1="554.85" x2="116.1" y2="564.85" stroke="#666" stroke-width="0.6"/>
<line x1="114.5" y1="554.85" x2="117.7" y2="554.85" stroke="#666" stroke-width="0.6"/>
<line x1="114.5" y1="564.85" x2="117.7" y2="564.85" stroke="#666" stroke-width="0.6"/>
<line x1="124.5" y1="543.27" x2="124.5" y2="554.27" stroke="#666" stroke-width="0.6"/>
<line x1="122.9" y1="543.27" x2="126.1" y2="543.27" stroke="#666" stroke-width="0.6"/>
<line x1="122.9" y1="554.27" x2="126.1" y2="554.27" stroke="#666" stroke-width="0.6"/>
<line x1="130.1" y1="531.14" x2="130.1" y2="543.14" stroke="#666" stroke-width="0.6"/>
<line x1="128.5" y1="531.14" x2="131.7" y2="531.14" stroke="#666" stroke-width="0.6"/>
<line x1="128.5" y1="543.14" x2="131.7" y2="543.14" stroke="#666" stroke-width="0.6"/>
<circle cx="32.1" cy="592.29" r="2.1" fill="#000"/>
<circle cx="34.9" cy="589.75" r="2.1" fill="#000"/>
<circle cx="48.9" cy="588.64" r="2.1" fill="#000"/>
<circle cx="57.3" cy="588.64" r="2.1" fill="#000"/>
<circle cx="68.5" cy="588.64" r="2.1" fill="#000"/>
<circle cx="76.9" cy="586.42" r="2.1" fill="#000"/>
<circle cx="88.1" cy="580.89" r="2.1" fill="#000"/>
<circle cx="96.5" cy="575.9" r="2.1" fill="#000"/>
<circle cx="107.7" cy="565.94" r="2.1" fill="#000"/>
<circle cx="116.1" cy="559.85" r="2.1" fill="#000"/>
<circle cx="124.5" cy="548.77" r="2.1" fill="#000"/>
<circle cx="130.1" cy="537.14" r="2.1" fill="#000"/>
<line x1="76.9" y1="587.14" x2="76.9" y2="590.14" stroke="#c22" stroke-width="0.6"/>
<line x1="75.3" y1="587.14" x2="78.5" y2="587.14" stroke="#c22" stroke-width="0.6"/>
<line x1="75.3" y1="590.14" x2="78.5" y2="590.14" stroke="#c22" stroke-width="0.6"/>
<line x1="88.1" y1="583.54" x2="88.1" y2="587.54" stroke="#c22" stroke-width="0.6"/>
<line x1="86.5" y1="583.54" x2="89.7" y2="583.54" stroke="#c22" stroke-width="0.6"/>
<line x1="86.5" y1="587.54" x2="89.7" y2="587.54" stroke="#c22" stroke-width="0.6"/>
<line x1="96.5" y1="580.05" x2="96.5" y2="585.05" stroke="#c22" stroke-width="0.6"/>
<line x1="94.9" y1="580.05" x2="98.1" y2="580.05" stroke="#c22" stroke-width="0.6"/>
<line x1="94.9" y1="585.05" x2="98.1" y2="585.05" stroke="#c22" stroke-width="0.6"/>
<line x1="107.7" y1="568.53" x2="107.7" y2="575.53" stroke="#c22" stroke-width="0.6"/>
<line x1="106.1" y1="568.53" x2="109.3" y2="568.53" stroke="#c22" stroke-width="0.6"/>
<line x1="106.1" y1="575.53" x2="109.3" y2="575.53" stroke="#c22" stroke-width="0.6"/>
<line x1="116.1" y1="561.94" x2="116.1" y2="569.94" stroke="#c22" stroke-width="0.6"/>
<line x1="114.5" y1="561.94" x2="117.7" y2="561.94" stroke="#c22" stroke-width="0.6"/>
<line x1="114.5" y1="569.94" x2="117.7" y2="569.94" stroke="#c22" stroke-width="0.6"/>
<line x1="124.5" y1="553.68" x2="124.5" y2="562.68" stroke="#c22" stroke-width="0.6"/>
<line x1="122.9" y1="553.68" x2="126.1" y2="553.68" stroke="#c22" stroke-width="0.6"/>
<line x1="122.9" y1="562.68" x2="126.1" y2="562.68" stroke="#c22" stroke-width="0.6"/>
<line x1="130.1" y1="544.27" x2="130.1" y2="553.27" stroke="#c22" stroke-width="0.6"/>
<line x1="128.5" y1="544.27" x2="131.7" y2="544.27" stroke="#c22" stroke-width="0.6"/>
<line x1="128.5" y1="553.27" x2="131.7" y2="553.27" stroke="#c22" stroke-width="0.6"/>
<rect x="30" y="590.19" width="4.2" height="4.2" fill="#a80000" stroke="none" stroke-width="0"/>
<rect x="32.8" y="588.75" width="4.2" height="4.2" fill="#a80000" stroke="none" stroke-width="0"/>
<rect x="46.8" y="587.65" width="4.2" height="4.2" fill="#a80000" stroke="none" stroke-width="0"/>
<rect x="55.2" y="587.65" width="4.2" height="4.2" fill="#a80000" stroke="none" stroke-width="0"/>
<rect x="66.4" y="587.09" width="4.2" height="4.2" fill="#a80000" stroke="none" stroke-width="0"/>
<rect x="74.8" y="586.54" width="4.2" height="4.2" fill="#a80000" stroke="none" stroke-width="0"/>
<rect x="86" y="583.44" width="4.2" height="4.2" fill="#a80000" stroke="none" stroke-width="0"/>
<rect x="94.4" y="580.45" width="4.2" height="4.2" fill="#a80000" stroke="none" stroke-width="0"/>
<rect x="105.6" y="569.93" width="4.2" height="4.2" fill="#a80000" stroke="none" stroke-width="0"/>
<rect x="114" y="563.84" width="4.2" height="4.2" fill="#a80000" stroke="none" stroke-width="0"/>
<rect x="122.4" y="556.08" width="4.2" height="4.2" fill="#a80000" stroke="none" stroke-width="0"/>
<rect x="128" y="546.67" width="4.2" height="4.2" fill="#a80000" stroke="none" stroke-width="0"/>
<line x1="76.9" y1="588.25" x2="76.9" y2="591.25" stroke="#33f" stroke-width="0.6"/>
<line x1="75.3" y1="588.25" x2="78.5" y2="588.25" stroke="#33f" stroke-width="0.6"/>
<line x1="75.3" y1="591.25" x2="78.5" y2="591.25" stroke="#33f" stroke-width="0.6"/>
<line x1="88.1" y1="586.42" x2="88.1" y2="590.42" stroke="#33f" stroke-width="0.6"/>
<line x1="86.5" y1="586.42" x2="89.7" y2="586.42" stroke="#33f" stroke-width="0.6"/>
<line x1="86.5" y1="590.42" x2="89.7" y2="590.42" stroke="#33f" stroke-width="0.6"/>
<line x1="96.5" y1="583.92" x2="96.5" y2="588.92" stroke="#33f" stroke-width="0.6"/>
<line x1="94.9" y1="583.92" x2="98.1" y2="583.92" stroke="#33f" stroke-width="0.6"/>
<line x1="94.9" y1="588.92" x2="98.1" y2="588.92" stroke="#33f" stroke-width="0.6"/>
<line x1="107.7" y1="576.28" x2="107.7" y2="583.28" stroke="#33f" stroke-width="0.6"/>
<line x1="106.1" y1="576.28" x2="109.3" y2="576.28" stroke="#33f" stroke-width="0.6"/>
<line x1="106.1" y1="583.28" x2="109.3" y2="583.28" stroke="#33f" stroke-width="0.6"/>
<line x1="116.1" y1="570.8" x2="116.1" y2="578.8" stroke="#33f" stroke-width="0.6"/>
<line x1="114.5" y1="570.8" x2="117.7" y2="570.8" stroke="#33f" stroke-width="0.6"/>
<line x1="114.5" y1="578.8" x2="117.7" y2="578.8" stroke="#33f" stroke-width="0.6"/>
<line x1="124.5" y1="563.15" x2="124.5" y2="573.15" stroke="#33f" stroke-width="0.6"/>
<line x1="122.9" y1="563.15" x2="126.1" y2="563.15" stroke="#33f" stroke-width="0.6"/>
<line x1="122.9" y1="573.15" x2="126.1" y2="573.15" stroke="#33f" stroke-width="0.6"/>
<line x1="130.1" y1="556.06" x2="130.1" y2="568.06" stroke="#33f" stroke-width="0.6"/>
<line x1="128.5" y1="556.06" x2="131.7" y2="556.06" stroke="#33f" stroke-width="0.6"/>
<line x1="128.5" y1="568.06" x2="131.7" y2="568.06" stroke="#33f" stroke-width="0.6"/>
<polygon points="32.1,590.4 30,594.18 34.2,594.18" fill="#0a14f0"/>
<polygon points="34.9,589.52 32.8,593.3 37,593.3" fill="#0a14f0"/>
<polygon points="48.9,588.41 46.8,592.19 51,592.19" fill="#0a14f0"/>
<polygon points="57.3,588.41 55.2,592.19 59.4,592.19" fill="#0a14f0"/>
<polygon points="68.5,588.41 66.4,592.19 70.6,592.19" fill="#0a14f0"/>
<polygon points="76.9,587.86 74.8,591.64 79,591.64" fill="#0a14f0"/>
<polygon points="88.1,586.53 86,590.31 90.2,590.31" fill="#0a14f0"/>
<polygon points="96.5,584.53 94.4,588.31 98.6,588.31" fill="#0a14f0"/>
<polygon points="107.7,577.89 105.6,581.67 109.8,581.67" fill="#0a14f0"/>
<polygon points="116.1,572.91 114,576.69 118.2,576.69" fill="#0a14f0"/>
<polygon points="124.5,566.26 122.4,570.04 126.6,570.04" fill="#0a14f0"/>
<polygon points="130.1,560.17 128,563.95 132.2,563.95" fill="#0a14f0"/>
<line x1="35.5" y1="511.5" x2="41.9" y2="511.5" stroke="#000" stroke-width="0.5"/>
<circle cx="38.7" cy="511.5" r="2.05" fill="#000"/>
<text x="0" y="0" font-size="6.7" text-anchor="start" fill="#111" transform="translate(47.1 513.71) scale(0.93 1)">Vehicle</text>
<line x1="35.5" y1="521.5" x2="41.9" y2="521.5" stroke="#a80000" stroke-width="0.5"/>
<rect x="36.65" y="519.45" width="4.1" height="4.1" fill="#a80000" stroke="none" stroke-width="0"/>
<text x="0" y="0" font-size="6.7" text-anchor="start" fill="#111" transform="translate(47.1 523.71) scale(0.93 1)">anti-PD-1</text>
<line x1="35.5" y1="531.1" x2="41.9" y2="531.1" stroke="#0a14f0" stroke-width="0.5"/>
<polygon points="38.7,529.25 36.65,532.95 40.75,532.95" fill="#0a14f0"/>
<text x="0" y="0" font-size="6.7" text-anchor="start" fill="#111" transform="translate(47.1 533.31) scale(0.93 1)">anti-PD-1 + IOA-244</text>
<line x1="135.1" y1="535.9" x2="135.1" y2="565.9" stroke="#555" stroke-width="1"/>
<line x1="138.8" y1="535.9" x2="138.8" y2="547.7" stroke="#555" stroke-width="1"/>
<text x="139.6" y="542.3" font-size="4.8" text-anchor="start" fill="#222">0.41</text>
<text x="136.3" y="561.6" font-size="4.8" text-anchor="start" fill="#222">0.0181</text>
<line x1="184.8" y1="516.7" x2="184.8" y2="600.2" stroke="#3a3a3a" stroke-width="1.2"/>
<line x1="184.4" y1="599.8" x2="282.5" y2="599.8" stroke="#3a3a3a" stroke-width="1.2"/>
<line x1="181.8" y1="516.7" x2="184.8" y2="516.7" stroke="#3a3a3a" stroke-width="0.8"/>
<text x="0" y="0" font-size="6" text-anchor="end" fill="#222" transform="translate(181.5 518.86) scale(0.92 1)">1,000</text>
<line x1="181.8" y1="533.32" x2="184.8" y2="533.32" stroke="#3a3a3a" stroke-width="0.8"/>
<text x="0" y="0" font-size="6" text-anchor="end" fill="#222" transform="translate(181.5 535.48) scale(0.92 1)">800</text>
<line x1="181.8" y1="549.94" x2="184.8" y2="549.94" stroke="#3a3a3a" stroke-width="0.8"/>
<text x="0" y="0" font-size="6" text-anchor="end" fill="#222" transform="translate(181.5 552.1) scale(0.92 1)">600</text>
<line x1="181.8" y1="566.56" x2="184.8" y2="566.56" stroke="#3a3a3a" stroke-width="0.8"/>
<text x="0" y="0" font-size="6" text-anchor="end" fill="#222" transform="translate(181.5 568.72) scale(0.92 1)">400</text>
<line x1="181.8" y1="583.18" x2="184.8" y2="583.18" stroke="#3a3a3a" stroke-width="0.8"/>
<text x="0" y="0" font-size="6" text-anchor="end" fill="#222" transform="translate(181.5 585.34) scale(0.92 1)">200</text>
<line x1="181.8" y1="599.8" x2="184.8" y2="599.8" stroke="#3a3a3a" stroke-width="0.8"/>
<text x="0" y="0" font-size="6" text-anchor="end" fill="#222" transform="translate(181.5 601.96) scale(0.92 1)">0</text>
<line x1="184.8" y1="599.8" x2="184.8" y2="602.8" stroke="#3a3a3a" stroke-width="0.8"/>
<text x="0" y="0" font-size="6" text-anchor="middle" fill="#222" transform="translate(184.8 608.8) scale(0.92 1)">0</text>
<line x1="197.97" y1="599.8" x2="197.97" y2="602.8" stroke="#3a3a3a" stroke-width="0.8"/>
<text x="0" y="0" font-size="6" text-anchor="middle" fill="#222" transform="translate(197.97 608.8) scale(0.92 1)">5</text>
<line x1="211.14" y1="599.8" x2="211.14" y2="602.8" stroke="#3a3a3a" stroke-width="0.8"/>
<text x="0" y="0" font-size="6" text-anchor="middle" fill="#222" transform="translate(211.14 608.8) scale(0.92 1)">10</text>
<line x1="224.31" y1="599.8" x2="224.31" y2="602.8" stroke="#3a3a3a" stroke-width="0.8"/>
<text x="0" y="0" font-size="6" text-anchor="middle" fill="#222" transform="translate(224.31 608.8) scale(0.92 1)">15</text>
<line x1="237.49" y1="599.8" x2="237.49" y2="602.8" stroke="#3a3a3a" stroke-width="0.8"/>
<text x="0" y="0" font-size="6" text-anchor="middle" fill="#222" transform="translate(237.49 608.8) scale(0.92 1)">20</text>
<line x1="250.66" y1="599.8" x2="250.66" y2="602.8" stroke="#3a3a3a" stroke-width="0.8"/>
<text x="0" y="0" font-size="6" text-anchor="middle" fill="#222" transform="translate(250.66 608.8) scale(0.92 1)">25</text>
<line x1="263.83" y1="599.8" x2="263.83" y2="602.8" stroke="#3a3a3a" stroke-width="0.8"/>
<text x="0" y="0" font-size="6" text-anchor="middle" fill="#222" transform="translate(263.83 608.8) scale(0.92 1)">30</text>
<line x1="277" y1="599.8" x2="277" y2="602.8" stroke="#3a3a3a" stroke-width="0.8"/>
<text x="0" y="0" font-size="6" text-anchor="middle" fill="#222" transform="translate(277 608.8) scale(0.92 1)">35</text>
<line x1="191.39" y1="599.8" x2="191.39" y2="601.6" stroke="#3a3a3a" stroke-width="0.6"/>
<line x1="204.56" y1="599.8" x2="204.56" y2="601.6" stroke="#3a3a3a" stroke-width="0.6"/>
<line x1="217.73" y1="599.8" x2="217.73" y2="601.6" stroke="#3a3a3a" stroke-width="0.6"/>
<line x1="230.9" y1="599.8" x2="230.9" y2="601.6" stroke="#3a3a3a" stroke-width="0.6"/>
<line x1="244.07" y1="599.8" x2="244.07" y2="601.6" stroke="#3a3a3a" stroke-width="0.6"/>
<line x1="257.24" y1="599.8" x2="257.24" y2="601.6" stroke="#3a3a3a" stroke-width="0.6"/>
<line x1="270.41" y1="599.8" x2="270.41" y2="601.6" stroke="#3a3a3a" stroke-width="0.6"/>
<text x="0" y="0" font-size="7.5" text-anchor="middle" fill="#111" transform="translate(161.3 555.9) rotate(-90) scale(0.92 1)">Tumor volume (mm³)</text>
<polyline points="187.43,593.15 190.07,590.66 203.24,589.41 211.14,588.17 221.68,587.33 229.58,583.18 240.12,574.87 248.02,566.56 258.56,553.26 266.46,541.63 274.37,530.83 279.63,525.01" fill="none" stroke="#222" stroke-width="0.6" stroke-linejoin="round"/>
<polyline points="187.43,595.64 190.07,594.81 203.24,593.98 211.14,593.57 221.68,593.15 229.58,591.49 240.12,587.33 248.02,583.18 258.56,574.87 266.46,572.38 274.37,562.4 279.63,548.28" fill="none" stroke="#222" stroke-width="0.6" stroke-linejoin="round"/>
<polyline points="187.43,596.06 190.07,595.23 203.24,594.4 211.14,593.98 221.68,593.57 229.58,591.91 240.12,589 248.02,580.69 258.56,570.72 266.46,568.22 274.37,564.07 279.63,553.26" fill="none" stroke="#222" stroke-width="0.6" stroke-linejoin="round"/>
<polyline points="187.43,595.64 190.07,594.4 203.24,593.98 211.14,593.57 221.68,593.15 229.58,592.32 240.12,588.17 248.02,584.01 258.56,574.87 266.46,569.05 274.37,562.4 279.63,556.59" fill="none" stroke="#222" stroke-width="0.6" stroke-linejoin="round"/>
<polyline points="187.43,596.48 190.07,595.23 203.24,594.81 211.14,593.98 221.68,593.57 229.58,592.74 240.12,589.83 248.02,584.84 258.56,577.36 266.46,574.04 274.37,566.56 279.63,558.25" fill="none" stroke="#222" stroke-width="0.6" stroke-linejoin="round"/>
<polyline points="187.43,595.23 190.07,593.98 203.24,593.57 211.14,593.15 221.68,594.81 229.58,593.15 240.12,590.66 248.02,586.5 258.56,580.69 266.46,576.53 274.37,570.72 279.63,565.73" fill="none" stroke="#222" stroke-width="0.6" stroke-linejoin="round"/>
<polyline points="187.43,596.06 190.07,594.81 203.24,593.98 211.14,593.57 221.68,593.15 229.58,592.74 240.12,591.49 248.02,587.33 258.56,583.18 266.46,579.86 274.37,574.87 279.63,568.22" fill="none" stroke="#222" stroke-width="0.6" stroke-linejoin="round"/>
<polyline points="187.43,595.64 190.07,594.81 203.24,594.4 211.14,593.98 221.68,592.32 229.58,590.66 240.12,582.35 248.02,581.52 258.56,579.02 266.46,576.53 274.37,574.04 279.63,570.72" fill="none" stroke="#222" stroke-width="0.6" stroke-linejoin="round"/>
<polyline points="187.43,594.81 190.07,593.57 203.24,593.15 211.14,593.15 221.68,593.98 229.58,594.81 240.12,592.32 248.02,589 258.56,584.84 266.46,579.86 274.37,575.7 279.63,572.38" fill="none" stroke="#222" stroke-width="0.6" stroke-linejoin="round"/>
<polyline points="187.43,596.06 190.07,595.23 203.24,594.81 211.14,594.4 221.68,593.98 229.58,593.15 240.12,591.49 248.02,588.17 258.56,584.01 266.46,577.36 274.37,573.21 279.63,566.56" fill="none" stroke="#222" stroke-width="0.6" stroke-linejoin="round"/>
<text x="233.5" y="525.4" font-size="8.4" text-anchor="middle" fill="#000">Vehicle</text>
<line x1="298.5" y1="513.1" x2="298.5" y2="598.2" stroke="#3a3a3a" stroke-width="1.2"/>
<line x1="298.1" y1="597.8" x2="397.7" y2="597.8" stroke="#3a3a3a" stroke-width="1.2"/>
<line x1="295.5" y1="513.1" x2="298.5" y2="513.1" stroke="#3a3a3a" stroke-width="0.8"/>
<text x="0" y="0" font-size="6" text-anchor="end" fill="#222" transform="translate(295.2 515.26) scale(0.92 1)">1,000</text>
<line x1="295.5" y1="530.04" x2="298.5" y2="530.04" stroke="#3a3a3a" stroke-width="0.8"/>
<text x="0" y="0" font-size="6" text-anchor="end" fill="#222" transform="translate(295.2 532.2) scale(0.92 1)">800</text>
<line x1="295.5" y1="546.98" x2="298.5" y2="546.98" stroke="#3a3a3a" stroke-width="0.8"/>
<text x="0" y="0" font-size="6" text-anchor="end" fill="#222" transform="translate(295.2 549.14) scale(0.92 1)">600</text>
<line x1="295.5" y1="563.92" x2="298.5" y2="563.92" stroke="#3a3a3a" stroke-width="0.8"/>
<text x="0" y="0" font-size="6" text-anchor="end" fill="#222" transform="translate(295.2 566.08) scale(0.92 1)">400</text>
<line x1="295.5" y1="580.86" x2="298.5" y2="580.86" stroke="#3a3a3a" stroke-width="0.8"/>
<text x="0" y="0" font-size="6" text-anchor="end" fill="#222" transform="translate(295.2 583.02) scale(0.92 1)">200</text>
<line x1="295.5" y1="597.8" x2="298.5" y2="597.8" stroke="#3a3a3a" stroke-width="0.8"/>
<text x="0" y="0" font-size="6" text-anchor="end" fill="#222" transform="translate(295.2 599.96) scale(0.92 1)">0</text>
<line x1="298.5" y1="597.8" x2="298.5" y2="600.8" stroke="#3a3a3a" stroke-width="0.8"/>
<text x="0" y="0" font-size="6" text-anchor="middle" fill="#222" transform="translate(298.5 606.8) scale(0.92 1)">0</text>
<line x1="312.17" y1="597.8" x2="312.17" y2="600.8" stroke="#3a3a3a" stroke-width="0.8"/>
<text x="0" y="0" font-size="6" text-anchor="middle" fill="#222" transform="translate(312.17 606.8) scale(0.92 1)">5</text>
<line x1="325.84" y1="597.8" x2="325.84" y2="600.8" stroke="#3a3a3a" stroke-width="0.8"/>
<text x="0" y="0" font-size="6" text-anchor="middle" fill="#222" transform="translate(325.84 606.8) scale(0.92 1)">10</text>
<line x1="339.51" y1="597.8" x2="339.51" y2="600.8" stroke="#3a3a3a" stroke-width="0.8"/>
<text x="0" y="0" font-size="6" text-anchor="middle" fill="#222" transform="translate(339.51 606.8) scale(0.92 1)">15</text>
<line x1="353.19" y1="597.8" x2="353.19" y2="600.8" stroke="#3a3a3a" stroke-width="0.8"/>
<text x="0" y="0" font-size="6" text-anchor="middle" fill="#222" transform="translate(353.19 606.8) scale(0.92 1)">20</text>
<line x1="366.86" y1="597.8" x2="366.86" y2="600.8" stroke="#3a3a3a" stroke-width="0.8"/>
<text x="0" y="0" font-size="6" text-anchor="middle" fill="#222" transform="translate(366.86 606.8) scale(0.92 1)">25</text>
<line x1="380.53" y1="597.8" x2="380.53" y2="600.8" stroke="#3a3a3a" stroke-width="0.8"/>
<text x="0" y="0" font-size="6" text-anchor="middle" fill="#222" transform="translate(380.53 606.8) scale(0.92 1)">30</text>
<line x1="394.2" y1="597.8" x2="394.2" y2="600.8" stroke="#3a3a3a" stroke-width="0.8"/>
<text x="0" y="0" font-size="6" text-anchor="middle" fill="#222" transform="translate(394.2 606.8) scale(0.92 1)">35</text>
<line x1="305.34" y1="597.8" x2="305.34" y2="599.6" stroke="#3a3a3a" stroke-width="0.6"/>
<line x1="319.01" y1="597.8" x2="319.01" y2="599.6" stroke="#3a3a3a" stroke-width="0.6"/>
<line x1="332.68" y1="597.8" x2="332.68" y2="599.6" stroke="#3a3a3a" stroke-width="0.6"/>
<line x1="346.35" y1="597.8" x2="346.35" y2="599.6" stroke="#3a3a3a" stroke-width="0.6"/>
<line x1="360.02" y1="597.8" x2="360.02" y2="599.6" stroke="#3a3a3a" stroke-width="0.6"/>
<line x1="373.69" y1="597.8" x2="373.69" y2="599.6" stroke="#3a3a3a" stroke-width="0.6"/>
<line x1="387.36" y1="597.8" x2="387.36" y2="599.6" stroke="#3a3a3a" stroke-width="0.6"/>
<polyline points="301.23,594.41 303.97,592.72 317.64,591.02 325.84,590.18 336.78,589.33 344.98,587.64 355.92,585.09 364.12,584.25 375.06,569 383.26,563.92 391.47,561.38 396.93,545.29" fill="none" stroke="#b31d1d" stroke-width="0.6" stroke-linejoin="round"/>
<polyline points="301.23,593.56 303.97,591.87 317.64,591.02 325.84,590.18 336.78,589.33 344.98,588.48 355.92,585.94 364.12,584.25 375.06,572.39 383.26,565.61 391.47,559.68 396.93,550.37" fill="none" stroke="#b31d1d" stroke-width="0.6" stroke-linejoin="round"/>
<polyline points="301.23,593.99 303.97,592.29 317.64,591.45 325.84,591.02 336.78,590.18 344.98,589.33 355.92,586.79 364.12,584.25 375.06,576.62 383.26,573.24 391.47,565.61 396.93,557.14" fill="none" stroke="#b31d1d" stroke-width="0.6" stroke-linejoin="round"/>
<polyline points="301.23,593.14 303.97,591.87 317.64,591.02 325.84,590.6 336.78,589.75 344.98,589.33 355.92,587.64 364.12,585.09 375.06,579.17 383.26,574.93 391.47,569.85 396.93,559.68" fill="none" stroke="#b31d1d" stroke-width="0.6" stroke-linejoin="round"/>
<polyline points="301.23,593.56 303.97,592.72 317.64,591.87 325.84,591.45 336.78,591.02 344.98,590.18 355.92,588.48 364.12,585.94 375.06,580.86 383.26,575.78 391.47,572.39 396.93,563.92" fill="none" stroke="#b31d1d" stroke-width="0.6" stroke-linejoin="round"/>
<polyline points="301.23,593.99 303.97,593.14 317.64,592.72 325.84,592.29 336.78,591.87 344.98,591.02 355.92,589.33 364.12,587.64 375.06,582.55 383.26,576.62 391.47,574.08 396.93,567.31" fill="none" stroke="#b31d1d" stroke-width="0.6" stroke-linejoin="round"/>
<polyline points="301.23,594.41 303.97,593.56 317.64,592.72 325.84,592.29 336.78,591.87 344.98,591.02 355.92,590.18 364.12,589.33 375.06,585.09 383.26,580.86 391.47,575.78 396.93,572.39" fill="none" stroke="#b31d1d" stroke-width="0.6" stroke-linejoin="round"/>
<polyline points="301.23,594.84 303.97,593.56 317.64,593.14 325.84,592.72 336.78,591.87 344.98,591.45 355.92,590.6 364.12,589.75 375.06,587.64 383.26,585.09 391.47,580.86 396.93,574.08" fill="none" stroke="#b31d1d" stroke-width="0.6" stroke-linejoin="round"/>
<polyline points="301.23,593.56 303.97,592.29 317.64,591.45 325.84,591.02 336.78,590.6 344.98,590.18 355.92,589.33 364.12,586.79 375.06,575.78 383.26,572.39 391.47,568.15 396.93,562.23" fill="none" stroke="#b31d1d" stroke-width="0.6" stroke-linejoin="round"/>
<text x="348.8" y="518.8" font-size="8.7" text-anchor="middle" fill="#000">anti-PD1</text>
<line x1="419" y1="510" x2="419" y2="595.8" stroke="#3a3a3a" stroke-width="1.2"/>
<line x1="418.6" y1="595.4" x2="517" y2="595.4" stroke="#3a3a3a" stroke-width="1.2"/>
<line x1="416" y1="510" x2="419" y2="510" stroke="#3a3a3a" stroke-width="0.8"/>
<text x="0" y="0" font-size="6" text-anchor="end" fill="#222" transform="translate(415.7 512.16) scale(0.92 1)">1,000</text>
<line x1="416" y1="527.08" x2="419" y2="527.08" stroke="#3a3a3a" stroke-width="0.8"/>
<text x="0" y="0" font-size="6" text-anchor="end" fill="#222" transform="translate(415.7 529.24) scale(0.92 1)">800</text>
<line x1="416" y1="544.16" x2="419" y2="544.16" stroke="#3a3a3a" stroke-width="0.8"/>
<text x="0" y="0" font-size="6" text-anchor="end" fill="#222" transform="translate(415.7 546.32) scale(0.92 1)">600</text>
<line x1="416" y1="561.24" x2="419" y2="561.24" stroke="#3a3a3a" stroke-width="0.8"/>
<text x="0" y="0" font-size="6" text-anchor="end" fill="#222" transform="translate(415.7 563.4) scale(0.92 1)">400</text>
<line x1="416" y1="578.32" x2="419" y2="578.32" stroke="#3a3a3a" stroke-width="0.8"/>
<text x="0" y="0" font-size="6" text-anchor="end" fill="#222" transform="translate(415.7 580.48) scale(0.92 1)">200</text>
<line x1="416" y1="595.4" x2="419" y2="595.4" stroke="#3a3a3a" stroke-width="0.8"/>
<text x="0" y="0" font-size="6" text-anchor="end" fill="#222" transform="translate(415.7 597.56) scale(0.92 1)">0</text>
<line x1="419" y1="595.4" x2="419" y2="598.4" stroke="#3a3a3a" stroke-width="0.8"/>
<text x="0" y="0" font-size="6" text-anchor="middle" fill="#222" transform="translate(419 604.4) scale(0.92 1)">0</text>
<line x1="432.5" y1="595.4" x2="432.5" y2="598.4" stroke="#3a3a3a" stroke-width="0.8"/>
<text x="0" y="0" font-size="6" text-anchor="middle" fill="#222" transform="translate(432.5 604.4) scale(0.92 1)">5</text>
<line x1="446" y1="595.4" x2="446" y2="598.4" stroke="#3a3a3a" stroke-width="0.8"/>
<text x="0" y="0" font-size="6" text-anchor="middle" fill="#222" transform="translate(446 604.4) scale(0.92 1)">10</text>
<line x1="459.5" y1="595.4" x2="459.5" y2="598.4" stroke="#3a3a3a" stroke-width="0.8"/>
<text x="0" y="0" font-size="6" text-anchor="middle" fill="#222" transform="translate(459.5 604.4) scale(0.92 1)">15</text>
<line x1="473" y1="595.4" x2="473" y2="598.4" stroke="#3a3a3a" stroke-width="0.8"/>
<text x="0" y="0" font-size="6" text-anchor="middle" fill="#222" transform="translate(473 604.4) scale(0.92 1)">20</text>
<line x1="486.5" y1="595.4" x2="486.5" y2="598.4" stroke="#3a3a3a" stroke-width="0.8"/>
<text x="0" y="0" font-size="6" text-anchor="middle" fill="#222" transform="translate(486.5 604.4) scale(0.92 1)">25</text>
<line x1="500" y1="595.4" x2="500" y2="598.4" stroke="#3a3a3a" stroke-width="0.8"/>
<text x="0" y="0" font-size="6" text-anchor="middle" fill="#222" transform="translate(500 604.4) scale(0.92 1)">30</text>
<line x1="513.5" y1="595.4" x2="513.5" y2="598.4" stroke="#3a3a3a" stroke-width="0.8"/>
<text x="0" y="0" font-size="6" text-anchor="middle" fill="#222" transform="translate(513.5 604.4) scale(0.92 1)">35</text>
<line x1="425.75" y1="595.4" x2="425.75" y2="597.2" stroke="#3a3a3a" stroke-width="0.6"/>
<line x1="439.25" y1="595.4" x2="439.25" y2="597.2" stroke="#3a3a3a" stroke-width="0.6"/>
<line x1="452.75" y1="595.4" x2="452.75" y2="597.2" stroke="#3a3a3a" stroke-width="0.6"/>
<line x1="466.25" y1="595.4" x2="466.25" y2="597.2" stroke="#3a3a3a" stroke-width="0.6"/>
<line x1="479.75" y1="595.4" x2="479.75" y2="597.2" stroke="#3a3a3a" stroke-width="0.6"/>
<line x1="493.25" y1="595.4" x2="493.25" y2="597.2" stroke="#3a3a3a" stroke-width="0.6"/>
<line x1="506.75" y1="595.4" x2="506.75" y2="597.2" stroke="#3a3a3a" stroke-width="0.6"/>
<polyline points="421.7,591.13 424.4,590.28 437.9,589.42 446,588.57 456.8,588.57 464.9,587.71 475.7,583.44 483.8,580.03 494.6,568.07 502.7,566.36 510.8,559.53 516.2,549.28" fill="none" stroke="#1f2ff5" stroke-width="0.6" stroke-linejoin="round"/>
<polyline points="421.7,591.98 424.4,590.7 437.9,589.42 446,589 456.8,588.57 464.9,587.71 475.7,585.15 483.8,581.74 494.6,569.78 502.7,567.22 510.8,561.24 516.2,555.26" fill="none" stroke="#1f2ff5" stroke-width="0.6" stroke-linejoin="round"/>
<polyline points="421.7,591.56 424.4,590.28 437.9,589 446,588.57 456.8,588.14 464.9,587.71 475.7,586.01 483.8,582.59 494.6,571.49 502.7,568.07 510.8,562.95 516.2,556.97" fill="none" stroke="#1f2ff5" stroke-width="0.6" stroke-linejoin="round"/>
<polyline points="421.7,591.13 424.4,589.85 437.9,588.57 446,588.14 456.8,588.57 464.9,588.57 475.7,586.86 483.8,583.44 494.6,573.2 502.7,569.78 510.8,564.66 516.2,562.95" fill="none" stroke="#1f2ff5" stroke-width="0.6" stroke-linejoin="round"/>
<polyline points="421.7,591.98 424.4,590.7 437.9,590.28 446,589.85 456.8,590.28 464.9,590.7 475.7,590.28 483.8,587.71 494.6,585.15 502.7,582.59 510.8,578.32 516.2,571.49" fill="none" stroke="#1f2ff5" stroke-width="0.6" stroke-linejoin="round"/>
<polyline points="421.7,591.56 424.4,591.13 437.9,590.7 446,590.28 456.8,590.7 464.9,591.13 475.7,590.7 483.8,588.57 494.6,586.01 502.7,583.44 510.8,579.17 516.2,574.9" fill="none" stroke="#1f2ff5" stroke-width="0.6" stroke-linejoin="round"/>
<polyline points="421.7,591.13 424.4,590.7 437.9,590.28 446,590.7 456.8,591.13 464.9,591.56 475.7,591.13 483.8,589.42 494.6,586.86 502.7,584.3 510.8,580.88 516.2,578.32" fill="none" stroke="#1f2ff5" stroke-width="0.6" stroke-linejoin="round"/>
<polyline points="421.7,591.98 424.4,591.13 437.9,590.7 446,590.28 456.8,590.28 464.9,590.7 475.7,591.56 483.8,591.98 494.6,592.84 502.7,593.26 510.8,593.69 516.2,593.69" fill="none" stroke="#1f2ff5" stroke-width="0.6" stroke-linejoin="round"/>
<polyline points="421.7,591.56 424.4,590.28 437.9,589.42 446,588.57 456.8,588.14 464.9,587.71 475.7,581.74 483.8,580.88 494.6,574.05 502.7,569.78 510.8,562.95 516.2,556.12" fill="none" stroke="#1f2ff5" stroke-width="0.6" stroke-linejoin="round"/>
<text x="469.5" y="514.3" font-size="8.9" text-anchor="middle" fill="#000">anti-PD1+IOA-244</text>
</svg>
</body></html>
